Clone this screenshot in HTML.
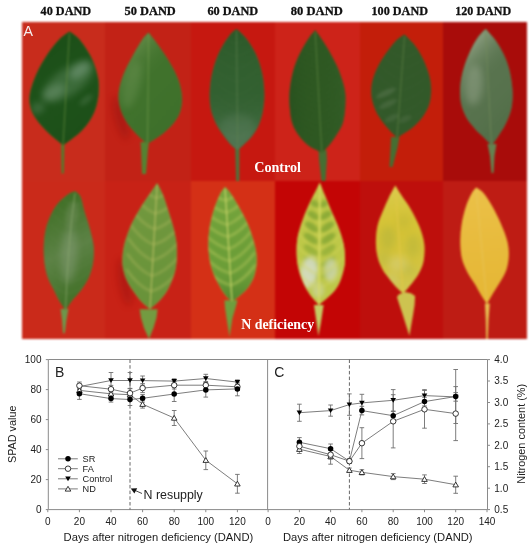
<!DOCTYPE html>
<html><head><meta charset="utf-8"><title>Figure</title>
<style>
html,body{margin:0;padding:0;background:#fff;}
body{width:531px;height:550px;position:relative;overflow:hidden;}
</style></head><body>
<svg width="505" height="317" viewBox="22 22 505 317" style="position:absolute;left:22px;top:22px;filter:blur(0.8px)">
<defs><filter id="b0" x="-150%" y="-150%" width="400%" height="400%"><feGaussianBlur stdDeviation="0.4"/></filter><filter id="b1" x="-150%" y="-150%" width="400%" height="400%"><feGaussianBlur stdDeviation="1"/></filter><filter id="b2" x="-150%" y="-150%" width="400%" height="400%"><feGaussianBlur stdDeviation="2"/></filter><filter id="b3" x="-150%" y="-150%" width="400%" height="400%"><feGaussianBlur stdDeviation="3.5"/></filter></defs>
<g>
<rect x="22" y="22" width="83" height="159" fill="rgb(200,44,28)"/>
<rect x="105" y="22" width="86" height="159" fill="rgb(194,34,22)"/>
<rect x="191" y="22" width="84" height="159" fill="rgb(198,24,16)"/>
<rect x="275" y="22" width="85" height="159" fill="rgb(205,35,25)"/>
<rect x="360" y="22" width="83" height="159" fill="rgb(195,30,10)"/>
<rect x="443" y="22" width="84" height="159" fill="rgb(168,12,10)"/>
<rect x="22" y="181" width="83" height="158" fill="rgb(202,42,26)"/>
<rect x="105" y="181" width="86" height="158" fill="rgb(200,34,22)"/>
<rect x="191" y="181" width="84" height="158" fill="rgb(212,48,22)"/>
<rect x="275" y="181" width="85" height="158" fill="rgb(195,5,5)"/>
<rect x="360" y="181" width="83" height="158" fill="rgb(190,15,12)"/>
<rect x="443" y="181" width="84" height="158" fill="rgb(190,28,20)"/>
</g>
<clipPath id="lc0"><path d="M69.4,31.5 C69.4,31.5 75.8,35.0 79.4,39.2 C83.0,43.4 87.9,50.8 90.9,56.5 C93.9,62.2 95.9,68.5 97.2,73.7 C98.5,79.0 99.1,82.7 99.0,88.0 C98.9,93.3 98.1,100.0 96.7,105.3 C95.3,110.6 93.1,115.2 90.5,119.6 C87.9,124.0 84.6,128.0 81.0,131.6 C77.4,135.2 72.0,139.0 69.0,141.2 C66.0,143.4 63.0,145.0 63.0,145.0 C63.0,145.0 61.0,143.7 58.3,141.5 C55.6,139.3 50.4,135.2 46.8,131.6 C43.1,127.9 39.1,123.5 36.4,119.6 C33.7,115.7 31.7,112.5 30.6,108.2 C29.5,103.9 28.8,99.5 29.8,93.8 C30.8,88.0 33.4,80.4 36.4,73.7 C39.4,67.0 44.0,59.4 47.8,53.6 C51.6,47.9 55.7,42.9 59.3,39.2 C62.9,35.5 69.4,31.5 69.4,31.5Z"/></clipPath>
<path d="M61.2,143.0 L64.4,143.0 L63.8,173.6 L61.6,173.6Z" fill="rgb(80,125,45)"/>
<path d="M69.4,31.5 C69.4,31.5 75.8,35.0 79.4,39.2 C83.0,43.4 87.9,50.8 90.9,56.5 C93.9,62.2 95.9,68.5 97.2,73.7 C98.5,79.0 99.1,82.7 99.0,88.0 C98.9,93.3 98.1,100.0 96.7,105.3 C95.3,110.6 93.1,115.2 90.5,119.6 C87.9,124.0 84.6,128.0 81.0,131.6 C77.4,135.2 72.0,139.0 69.0,141.2 C66.0,143.4 63.0,145.0 63.0,145.0 C63.0,145.0 61.0,143.7 58.3,141.5 C55.6,139.3 50.4,135.2 46.8,131.6 C43.1,127.9 39.1,123.5 36.4,119.6 C33.7,115.7 31.7,112.5 30.6,108.2 C29.5,103.9 28.8,99.5 29.8,93.8 C30.8,88.0 33.4,80.4 36.4,73.7 C39.4,67.0 44.0,59.4 47.8,53.6 C51.6,47.9 55.7,42.9 59.3,39.2 C62.9,35.5 69.4,31.5 69.4,31.5Z" fill="rgb(30,82,26)"/>
<g clip-path="url(#lc0)">
<linearGradient id="lg0" gradientUnits="userSpaceOnUse" x1="30" y1="40" x2="100" y2="140"><stop offset="0" stop-color="rgb(22,68,18)" stop-opacity="0.5"/><stop offset="0.5" stop-color="rgb(30,82,26)" stop-opacity="0"/><stop offset="1" stop-color="rgb(22,66,18)" stop-opacity="0.4"/></linearGradient>
<path d="M69.4,31.5 C69.4,31.5 75.8,35.0 79.4,39.2 C83.0,43.4 87.9,50.8 90.9,56.5 C93.9,62.2 95.9,68.5 97.2,73.7 C98.5,79.0 99.1,82.7 99.0,88.0 C98.9,93.3 98.1,100.0 96.7,105.3 C95.3,110.6 93.1,115.2 90.5,119.6 C87.9,124.0 84.6,128.0 81.0,131.6 C77.4,135.2 72.0,139.0 69.0,141.2 C66.0,143.4 63.0,145.0 63.0,145.0 C63.0,145.0 61.0,143.7 58.3,141.5 C55.6,139.3 50.4,135.2 46.8,131.6 C43.1,127.9 39.1,123.5 36.4,119.6 C33.7,115.7 31.7,112.5 30.6,108.2 C29.5,103.9 28.8,99.5 29.8,93.8 C30.8,88.0 33.4,80.4 36.4,73.7 C39.4,67.0 44.0,59.4 47.8,53.6 C51.6,47.9 55.7,42.9 59.3,39.2 C62.9,35.5 69.4,31.5 69.4,31.5Z" fill="url(#lg0)"/>
<ellipse cx="68" cy="82" rx="30" ry="13" transform="rotate(-35 68 82)" fill="rgb(100,140,100)" opacity="0.45" filter="url(#b3)"/>
<ellipse cx="80" cy="70" rx="12" ry="6" transform="rotate(-40 80 70)" fill="rgb(150,180,160)" opacity="0.4" filter="url(#b3)"/>
<ellipse cx="54" cy="92" rx="12" ry="6" transform="rotate(-28 54 92)" fill="rgb(140,170,145)" opacity="0.35" filter="url(#b3)"/>
<ellipse cx="38" cy="108" rx="7" ry="5" transform="rotate(-30 38 108)" fill="rgb(130,160,135)" opacity="0.35" filter="url(#b3)"/>
<ellipse cx="86" cy="100" rx="8" ry="3" transform="rotate(-40 86 100)" fill="rgb(110,145,110)" opacity="0.3" filter="url(#b2)"/>
<path d="M69.4,33.5 L63.0,145.0" stroke="rgb(100,140,60)" stroke-width="0.9" fill="none" opacity="0.8"/>
<path d="M69.4,31.5 C69.4,31.5 75.8,35.0 79.4,39.2 C83.0,43.4 87.9,50.8 90.9,56.5 C93.9,62.2 95.9,68.5 97.2,73.7 C98.5,79.0 99.1,82.7 99.0,88.0 C98.9,93.3 98.1,100.0 96.7,105.3 C95.3,110.6 93.1,115.2 90.5,119.6 C87.9,124.0 84.6,128.0 81.0,131.6 C77.4,135.2 72.0,139.0 69.0,141.2 C66.0,143.4 63.0,145.0 63.0,145.0 C63.0,145.0 61.0,143.7 58.3,141.5 C55.6,139.3 50.4,135.2 46.8,131.6 C43.1,127.9 39.1,123.5 36.4,119.6 C33.7,115.7 31.7,112.5 30.6,108.2 C29.5,103.9 28.8,99.5 29.8,93.8 C30.8,88.0 33.4,80.4 36.4,73.7 C39.4,67.0 44.0,59.4 47.8,53.6 C51.6,47.9 55.7,42.9 59.3,39.2 C62.9,35.5 69.4,31.5 69.4,31.5Z" stroke="rgb(100,120,30)" stroke-width="1.0" fill="none" opacity="0.5"/>
</g>
<clipPath id="lc1"><path d="M148.7,32.5 C148.7,32.5 154.7,40.0 158.2,45.0 C161.7,50.0 166.3,56.5 169.7,62.3 C173.0,68.0 176.2,73.8 178.3,79.5 C180.4,85.2 181.8,91.5 182.1,96.8 C182.4,102.1 181.8,106.9 180.4,111.2 C179.1,115.5 176.8,119.0 174.0,122.7 C171.2,126.4 167.0,130.2 163.5,133.2 C160.0,136.1 155.7,138.7 153.0,140.4 C150.3,142.1 147.5,143.5 147.5,143.5 C147.5,143.5 144.7,141.9 142.4,139.9 C140.1,137.9 136.7,134.7 133.8,131.3 C130.9,128.0 127.5,124.1 125.1,119.8 C122.7,115.5 120.5,110.2 119.4,105.4 C118.4,100.6 118.1,96.3 118.8,91.0 C119.5,85.7 121.5,79.5 123.7,73.8 C126.0,68.0 129.2,62.2 132.3,56.5 C135.4,50.8 139.7,43.3 142.4,39.3 C145.1,35.3 148.7,32.5 148.7,32.5Z"/></clipPath>
<ellipse cx="121" cy="118" rx="6" ry="22" transform="rotate(-15 121 118)" fill="rgb(140,15,10)" opacity="0.4" filter="url(#b3)"/>
<path d="M140.5,142.0 L149.0,142.0 L148.0,150.0 L146.0,174.0 L142.0,174.0 L141.0,150.0Z" fill="rgb(85,130,50)"/>
<path d="M148.7,32.5 C148.7,32.5 154.7,40.0 158.2,45.0 C161.7,50.0 166.3,56.5 169.7,62.3 C173.0,68.0 176.2,73.8 178.3,79.5 C180.4,85.2 181.8,91.5 182.1,96.8 C182.4,102.1 181.8,106.9 180.4,111.2 C179.1,115.5 176.8,119.0 174.0,122.7 C171.2,126.4 167.0,130.2 163.5,133.2 C160.0,136.1 155.7,138.7 153.0,140.4 C150.3,142.1 147.5,143.5 147.5,143.5 C147.5,143.5 144.7,141.9 142.4,139.9 C140.1,137.9 136.7,134.7 133.8,131.3 C130.9,128.0 127.5,124.1 125.1,119.8 C122.7,115.5 120.5,110.2 119.4,105.4 C118.4,100.6 118.1,96.3 118.8,91.0 C119.5,85.7 121.5,79.5 123.7,73.8 C126.0,68.0 129.2,62.2 132.3,56.5 C135.4,50.8 139.7,43.3 142.4,39.3 C145.1,35.3 148.7,32.5 148.7,32.5Z" fill="rgb(64,114,44)"/>
<g clip-path="url(#lc1)">
<linearGradient id="lg1" gradientUnits="userSpaceOnUse" x1="118" y1="60" x2="182" y2="120"><stop offset="0" stop-color="rgb(115,150,85)" stop-opacity="0.7"/><stop offset="0.45" stop-color="rgb(64,114,44)" stop-opacity="0"/><stop offset="1" stop-color="rgb(54,104,38)" stop-opacity="0.3"/></linearGradient>
<path d="M148.7,32.5 C148.7,32.5 154.7,40.0 158.2,45.0 C161.7,50.0 166.3,56.5 169.7,62.3 C173.0,68.0 176.2,73.8 178.3,79.5 C180.4,85.2 181.8,91.5 182.1,96.8 C182.4,102.1 181.8,106.9 180.4,111.2 C179.1,115.5 176.8,119.0 174.0,122.7 C171.2,126.4 167.0,130.2 163.5,133.2 C160.0,136.1 155.7,138.7 153.0,140.4 C150.3,142.1 147.5,143.5 147.5,143.5 C147.5,143.5 144.7,141.9 142.4,139.9 C140.1,137.9 136.7,134.7 133.8,131.3 C130.9,128.0 127.5,124.1 125.1,119.8 C122.7,115.5 120.5,110.2 119.4,105.4 C118.4,100.6 118.1,96.3 118.8,91.0 C119.5,85.7 121.5,79.5 123.7,73.8 C126.0,68.0 129.2,62.2 132.3,56.5 C135.4,50.8 139.7,43.3 142.4,39.3 C145.1,35.3 148.7,32.5 148.7,32.5Z" fill="url(#lg1)"/>
<ellipse cx="132" cy="85" rx="8" ry="24" transform="rotate(15 132 85)" fill="rgb(125,160,100)" opacity="0.3" filter="url(#b3)"/>
<path d="M148.7,34.5 L147.5,143.5" stroke="rgb(120,160,80)" stroke-width="0.9" fill="none" opacity="0.7"/>
<path d="M148.7,32.5 C148.7,32.5 154.7,40.0 158.2,45.0 C161.7,50.0 166.3,56.5 169.7,62.3 C173.0,68.0 176.2,73.8 178.3,79.5 C180.4,85.2 181.8,91.5 182.1,96.8 C182.4,102.1 181.8,106.9 180.4,111.2 C179.1,115.5 176.8,119.0 174.0,122.7 C171.2,126.4 167.0,130.2 163.5,133.2 C160.0,136.1 155.7,138.7 153.0,140.4 C150.3,142.1 147.5,143.5 147.5,143.5 C147.5,143.5 144.7,141.9 142.4,139.9 C140.1,137.9 136.7,134.7 133.8,131.3 C130.9,128.0 127.5,124.1 125.1,119.8 C122.7,115.5 120.5,110.2 119.4,105.4 C118.4,100.6 118.1,96.3 118.8,91.0 C119.5,85.7 121.5,79.5 123.7,73.8 C126.0,68.0 129.2,62.2 132.3,56.5 C135.4,50.8 139.7,43.3 142.4,39.3 C145.1,35.3 148.7,32.5 148.7,32.5Z" stroke="rgb(120,140,50)" stroke-width="0.8" fill="none" opacity="0.4"/>
</g>
<clipPath id="lc2"><path d="M236.5,29.0 C236.5,29.0 242.5,33.7 245.7,37.8 C248.9,41.9 252.9,47.6 255.7,53.6 C258.5,59.6 260.9,67.1 262.3,73.8 C263.8,80.5 264.3,87.7 264.4,93.9 C264.5,100.1 263.9,105.9 262.9,111.2 C261.9,116.5 260.5,121.3 258.6,125.6 C256.7,129.9 253.9,133.9 251.4,137.1 C248.9,140.3 246.1,142.5 243.8,144.7 C241.5,146.9 237.6,150.5 237.6,150.5 C237.6,150.5 233.8,147.9 231.3,145.2 C228.8,142.5 225.2,137.9 222.6,134.2 C220.0,130.4 217.5,127.0 215.5,122.7 C213.5,118.4 211.6,113.6 210.6,108.3 C209.6,103.0 209.4,97.2 209.7,91.0 C210.0,84.8 210.9,77.6 212.6,70.9 C214.3,64.2 216.9,56.8 219.8,50.8 C222.7,44.8 227.0,38.5 229.8,34.9 C232.6,31.3 236.5,29.0 236.5,29.0Z"/></clipPath>
<path d="M235.2,149.0 L239.4,149.0 L239.2,181.0 L236.2,181.0Z" fill="rgb(75,115,60)"/>
<path d="M236.5,29.0 C236.5,29.0 242.5,33.7 245.7,37.8 C248.9,41.9 252.9,47.6 255.7,53.6 C258.5,59.6 260.9,67.1 262.3,73.8 C263.8,80.5 264.3,87.7 264.4,93.9 C264.5,100.1 263.9,105.9 262.9,111.2 C261.9,116.5 260.5,121.3 258.6,125.6 C256.7,129.9 253.9,133.9 251.4,137.1 C248.9,140.3 246.1,142.5 243.8,144.7 C241.5,146.9 237.6,150.5 237.6,150.5 C237.6,150.5 233.8,147.9 231.3,145.2 C228.8,142.5 225.2,137.9 222.6,134.2 C220.0,130.4 217.5,127.0 215.5,122.7 C213.5,118.4 211.6,113.6 210.6,108.3 C209.6,103.0 209.4,97.2 209.7,91.0 C210.0,84.8 210.9,77.6 212.6,70.9 C214.3,64.2 216.9,56.8 219.8,50.8 C222.7,44.8 227.0,38.5 229.8,34.9 C232.6,31.3 236.5,29.0 236.5,29.0Z" fill="rgb(50,96,48)"/>
<g clip-path="url(#lc2)">
<linearGradient id="lg2" gradientUnits="userSpaceOnUse" x1="237" y1="30" x2="237" y2="150"><stop offset="0" stop-color="rgb(38,82,34)" stop-opacity="0.6"/><stop offset="0.45" stop-color="rgb(50,96,48)" stop-opacity="0"/><stop offset="1" stop-color="rgb(105,135,110)" stop-opacity="0.6"/></linearGradient>
<path d="M236.5,29.0 C236.5,29.0 242.5,33.7 245.7,37.8 C248.9,41.9 252.9,47.6 255.7,53.6 C258.5,59.6 260.9,67.1 262.3,73.8 C263.8,80.5 264.3,87.7 264.4,93.9 C264.5,100.1 263.9,105.9 262.9,111.2 C261.9,116.5 260.5,121.3 258.6,125.6 C256.7,129.9 253.9,133.9 251.4,137.1 C248.9,140.3 246.1,142.5 243.8,144.7 C241.5,146.9 237.6,150.5 237.6,150.5 C237.6,150.5 233.8,147.9 231.3,145.2 C228.8,142.5 225.2,137.9 222.6,134.2 C220.0,130.4 217.5,127.0 215.5,122.7 C213.5,118.4 211.6,113.6 210.6,108.3 C209.6,103.0 209.4,97.2 209.7,91.0 C210.0,84.8 210.9,77.6 212.6,70.9 C214.3,64.2 216.9,56.8 219.8,50.8 C222.7,44.8 227.0,38.5 229.8,34.9 C232.6,31.3 236.5,29.0 236.5,29.0Z" fill="url(#lg2)"/>
<ellipse cx="238" cy="128" rx="18" ry="14" transform="rotate(0 238 128)" fill="rgb(110,140,115)" opacity="0.25" filter="url(#b3)"/>
<path d="M236.6,43.6 Q225.6,41.0 214.5,30.6 M236.6,43.6 Q247.6,40.8 258.5,30.2 M236.7,56.4 Q225.7,53.9 214.6,43.4 M236.7,56.4 Q247.7,53.7 258.6,43.0 M236.9,69.3 Q225.8,66.7 214.7,56.3 M236.9,69.3 Q247.8,66.5 258.7,55.9 M237.0,82.1 Q226.0,79.6 214.9,69.1 M237.0,82.1 Q248.0,79.4 258.9,68.7 M237.1,95.0 Q226.1,92.4 215.0,82.0 M237.1,95.0 Q248.1,92.2 259.0,81.6 M237.2,107.8 Q226.2,105.3 215.1,94.8 M237.2,107.8 Q248.2,105.1 259.1,94.4 M237.3,120.6 Q226.3,118.1 215.2,107.6 M237.3,120.6 Q248.3,117.9 259.2,107.2 M237.4,133.5 Q226.4,130.9 215.3,120.5 M237.4,133.5 Q248.4,130.8 259.3,120.1" stroke="rgb(80,115,70)" stroke-width="0.6" fill="none" opacity="0.5" filter="url(#b1)"/>
<path d="M236.5,31.0 L237.6,150.5" stroke="rgb(95,130,80)" stroke-width="0.9" fill="none" opacity="0.8"/>
<path d="M236.5,29.0 C236.5,29.0 242.5,33.7 245.7,37.8 C248.9,41.9 252.9,47.6 255.7,53.6 C258.5,59.6 260.9,67.1 262.3,73.8 C263.8,80.5 264.3,87.7 264.4,93.9 C264.5,100.1 263.9,105.9 262.9,111.2 C261.9,116.5 260.5,121.3 258.6,125.6 C256.7,129.9 253.9,133.9 251.4,137.1 C248.9,140.3 246.1,142.5 243.8,144.7 C241.5,146.9 237.6,150.5 237.6,150.5 C237.6,150.5 233.8,147.9 231.3,145.2 C228.8,142.5 225.2,137.9 222.6,134.2 C220.0,130.4 217.5,127.0 215.5,122.7 C213.5,118.4 211.6,113.6 210.6,108.3 C209.6,103.0 209.4,97.2 209.7,91.0 C210.0,84.8 210.9,77.6 212.6,70.9 C214.3,64.2 216.9,56.8 219.8,50.8 C222.7,44.8 227.0,38.5 229.8,34.9 C232.6,31.3 236.5,29.0 236.5,29.0Z" stroke="rgb(110,120,50)" stroke-width="0.8" fill="none" opacity="0.5"/>
</g>
<clipPath id="lc3"><path d="M315.2,30.0 C315.2,30.0 319.8,36.1 322.3,40.0 C324.9,43.9 327.7,48.5 330.5,53.6 C333.3,58.7 336.6,64.6 339.0,70.8 C341.4,77.0 344.0,84.7 345.0,90.9 C346.0,97.1 345.6,102.7 345.2,108.2 C344.8,113.7 344.1,119.4 342.5,124.0 C340.9,128.6 338.1,132.3 335.8,136.0 C333.5,139.7 330.9,143.2 328.6,146.0 C326.3,148.8 321.8,152.5 321.8,152.5 C321.8,152.5 312.8,148.8 309.0,146.0 C305.2,143.2 301.9,139.7 299.2,136.0 C296.4,132.3 294.1,128.6 292.5,124.0 C290.9,119.4 290.3,113.7 289.8,108.2 C289.3,102.7 289.0,97.1 289.6,90.9 C290.2,84.7 291.5,77.0 293.2,70.8 C294.9,64.6 297.3,58.9 299.8,53.6 C302.3,48.3 305.4,43.1 308.0,39.2 C310.6,35.3 315.2,30.0 315.2,30.0Z"/></clipPath>
<path d="M318.5,150.0 L326.5,150.0 L327.0,160.0 L325.5,181.0 L321.5,181.0 L319.0,160.0Z" fill="rgb(70,110,50)"/>
<path d="M315.2,30.0 C315.2,30.0 319.8,36.1 322.3,40.0 C324.9,43.9 327.7,48.5 330.5,53.6 C333.3,58.7 336.6,64.6 339.0,70.8 C341.4,77.0 344.0,84.7 345.0,90.9 C346.0,97.1 345.6,102.7 345.2,108.2 C344.8,113.7 344.1,119.4 342.5,124.0 C340.9,128.6 338.1,132.3 335.8,136.0 C333.5,139.7 330.9,143.2 328.6,146.0 C326.3,148.8 321.8,152.5 321.8,152.5 C321.8,152.5 312.8,148.8 309.0,146.0 C305.2,143.2 301.9,139.7 299.2,136.0 C296.4,132.3 294.1,128.6 292.5,124.0 C290.9,119.4 290.3,113.7 289.8,108.2 C289.3,102.7 289.0,97.1 289.6,90.9 C290.2,84.7 291.5,77.0 293.2,70.8 C294.9,64.6 297.3,58.9 299.8,53.6 C302.3,48.3 305.4,43.1 308.0,39.2 C310.6,35.3 315.2,30.0 315.2,30.0Z" fill="rgb(46,88,34)"/>
<g clip-path="url(#lc3)">
<linearGradient id="lg3" gradientUnits="userSpaceOnUse" x1="290" y1="90" x2="345" y2="90"><stop offset="0" stop-color="rgb(36,76,28)" stop-opacity="0.5"/><stop offset="0.5" stop-color="rgb(46,88,34)" stop-opacity="0"/><stop offset="1" stop-color="rgb(58,100,46)" stop-opacity="0.4"/></linearGradient>
<path d="M315.2,30.0 C315.2,30.0 319.8,36.1 322.3,40.0 C324.9,43.9 327.7,48.5 330.5,53.6 C333.3,58.7 336.6,64.6 339.0,70.8 C341.4,77.0 344.0,84.7 345.0,90.9 C346.0,97.1 345.6,102.7 345.2,108.2 C344.8,113.7 344.1,119.4 342.5,124.0 C340.9,128.6 338.1,132.3 335.8,136.0 C333.5,139.7 330.9,143.2 328.6,146.0 C326.3,148.8 321.8,152.5 321.8,152.5 C321.8,152.5 312.8,148.8 309.0,146.0 C305.2,143.2 301.9,139.7 299.2,136.0 C296.4,132.3 294.1,128.6 292.5,124.0 C290.9,119.4 290.3,113.7 289.8,108.2 C289.3,102.7 289.0,97.1 289.6,90.9 C290.2,84.7 291.5,77.0 293.2,70.8 C294.9,64.6 297.3,58.9 299.8,53.6 C302.3,48.3 305.4,43.1 308.0,39.2 C310.6,35.3 315.2,30.0 315.2,30.0Z" fill="url(#lg3)"/>
<path d="M316.0,44.7 Q303.9,42.5 291.3,31.6 M316.0,44.7 Q327.8,41.2 339.2,29.0 M316.6,56.0 Q304.5,53.8 291.9,42.9 M316.6,56.0 Q328.4,52.5 339.8,40.4 M317.2,67.4 Q305.1,65.1 292.5,54.3 M317.2,67.4 Q329.0,63.8 340.4,51.7 M317.8,78.7 Q305.7,76.5 293.1,65.6 M317.8,78.7 Q329.7,75.2 341.0,63.0 M318.4,90.0 Q306.3,87.8 293.7,76.9 M318.4,90.0 Q330.3,86.5 341.6,74.4 M319.0,101.4 Q306.9,99.1 294.3,88.3 M319.0,101.4 Q330.9,97.8 342.2,85.7 M319.7,112.7 Q307.5,110.5 294.9,99.6 M319.7,112.7 Q331.5,109.2 342.8,97.0 M320.3,124.0 Q308.1,121.8 295.5,110.9 M320.3,124.0 Q332.1,120.5 343.5,108.3 M320.9,135.3 Q308.7,133.1 296.1,122.3 M320.9,135.3 Q332.7,131.8 344.1,119.7" stroke="rgb(60,100,50)" stroke-width="0.6" fill="none" opacity="0.5" filter="url(#b1)"/>
<path d="M315.2,32.0 L321.8,152.5" stroke="rgb(85,125,60)" stroke-width="1.0" fill="none" opacity="0.9"/>
<path d="M315.2,30.0 C315.2,30.0 319.8,36.1 322.3,40.0 C324.9,43.9 327.7,48.5 330.5,53.6 C333.3,58.7 336.6,64.6 339.0,70.8 C341.4,77.0 344.0,84.7 345.0,90.9 C346.0,97.1 345.6,102.7 345.2,108.2 C344.8,113.7 344.1,119.4 342.5,124.0 C340.9,128.6 338.1,132.3 335.8,136.0 C333.5,139.7 330.9,143.2 328.6,146.0 C326.3,148.8 321.8,152.5 321.8,152.5 C321.8,152.5 312.8,148.8 309.0,146.0 C305.2,143.2 301.9,139.7 299.2,136.0 C296.4,132.3 294.1,128.6 292.5,124.0 C290.9,119.4 290.3,113.7 289.8,108.2 C289.3,102.7 289.0,97.1 289.6,90.9 C290.2,84.7 291.5,77.0 293.2,70.8 C294.9,64.6 297.3,58.9 299.8,53.6 C302.3,48.3 305.4,43.1 308.0,39.2 C310.6,35.3 315.2,30.0 315.2,30.0Z" stroke="rgb(90,100,40)" stroke-width="0.8" fill="none" opacity="0.5"/>
</g>
<clipPath id="lc4"><path d="M404.5,34.5 C404.5,34.5 411.5,40.9 414.6,45.0 C417.7,49.1 420.7,54.0 423.2,59.3 C425.7,64.6 428.2,71.3 429.5,76.6 C430.8,81.9 431.3,86.1 431.2,90.9 C431.1,95.7 430.5,100.8 428.9,105.3 C427.3,109.8 424.6,114.4 421.7,118.2 C418.8,122.0 414.8,125.7 411.7,128.3 C408.6,130.9 405.6,132.4 403.1,134.0 C400.7,135.6 397.0,137.8 397.0,137.8 C397.0,137.8 392.5,133.7 390.2,131.1 C387.9,128.5 385.4,125.8 383.0,122.5 C380.6,119.2 377.7,115.3 375.8,111.0 C373.9,106.7 372.1,101.5 371.5,96.7 C370.9,91.9 371.2,87.1 372.1,82.3 C373.1,77.5 374.9,72.8 377.2,68.0 C379.5,63.2 382.7,58.1 385.8,53.6 C388.9,49.1 392.8,43.9 395.9,40.7 C399.0,37.5 404.5,34.5 404.5,34.5Z"/></clipPath>
<path d="M391.0,137.0 L399.5,137.0 L397.5,148.0 L392.5,167.0 L389.5,167.0 L390.5,148.0Z" fill="rgb(70,110,50)"/>
<path d="M404.5,34.5 C404.5,34.5 411.5,40.9 414.6,45.0 C417.7,49.1 420.7,54.0 423.2,59.3 C425.7,64.6 428.2,71.3 429.5,76.6 C430.8,81.9 431.3,86.1 431.2,90.9 C431.1,95.7 430.5,100.8 428.9,105.3 C427.3,109.8 424.6,114.4 421.7,118.2 C418.8,122.0 414.8,125.7 411.7,128.3 C408.6,130.9 405.6,132.4 403.1,134.0 C400.7,135.6 397.0,137.8 397.0,137.8 C397.0,137.8 392.5,133.7 390.2,131.1 C387.9,128.5 385.4,125.8 383.0,122.5 C380.6,119.2 377.7,115.3 375.8,111.0 C373.9,106.7 372.1,101.5 371.5,96.7 C370.9,91.9 371.2,87.1 372.1,82.3 C373.1,77.5 374.9,72.8 377.2,68.0 C379.5,63.2 382.7,58.1 385.8,53.6 C388.9,49.1 392.8,43.9 395.9,40.7 C399.0,37.5 404.5,34.5 404.5,34.5Z" fill="rgb(54,94,44)"/>
<g clip-path="url(#lc4)">
<linearGradient id="lg4" gradientUnits="userSpaceOnUse" x1="372" y1="60" x2="430" y2="120"><stop offset="0" stop-color="rgb(42,78,36)" stop-opacity="0.3"/><stop offset="1" stop-color="rgb(42,78,36)" stop-opacity="0.3"/></linearGradient>
<path d="M404.5,34.5 C404.5,34.5 411.5,40.9 414.6,45.0 C417.7,49.1 420.7,54.0 423.2,59.3 C425.7,64.6 428.2,71.3 429.5,76.6 C430.8,81.9 431.3,86.1 431.2,90.9 C431.1,95.7 430.5,100.8 428.9,105.3 C427.3,109.8 424.6,114.4 421.7,118.2 C418.8,122.0 414.8,125.7 411.7,128.3 C408.6,130.9 405.6,132.4 403.1,134.0 C400.7,135.6 397.0,137.8 397.0,137.8 C397.0,137.8 392.5,133.7 390.2,131.1 C387.9,128.5 385.4,125.8 383.0,122.5 C380.6,119.2 377.7,115.3 375.8,111.0 C373.9,106.7 372.1,101.5 371.5,96.7 C370.9,91.9 371.2,87.1 372.1,82.3 C373.1,77.5 374.9,72.8 377.2,68.0 C379.5,63.2 382.7,58.1 385.8,53.6 C388.9,49.1 392.8,43.9 395.9,40.7 C399.0,37.5 404.5,34.5 404.5,34.5Z" fill="url(#lg4)"/>
<ellipse cx="386" cy="93" rx="11" ry="3" transform="rotate(-25 386 93)" fill="rgb(105,130,95)" opacity="0.4" filter="url(#b1)"/>
<ellipse cx="388" cy="104" rx="10" ry="3" transform="rotate(-25 388 104)" fill="rgb(105,130,95)" opacity="0.35" filter="url(#b1)"/>
<ellipse cx="392" cy="118" rx="8" ry="3" transform="rotate(-25 392 118)" fill="rgb(105,130,95)" opacity="0.3" filter="url(#b1)"/>
<ellipse cx="405" cy="119" rx="7" ry="3" transform="rotate(-25 405 119)" fill="rgb(100,125,90)" opacity="0.3" filter="url(#b1)"/>
<path d="M403.6,46.9 Q391.8,43.2 380.7,30.8 M403.6,46.9 Q415.8,44.9 428.6,34.3 M402.8,57.8 Q391.0,54.1 379.9,41.7 M402.8,57.8 Q415.0,55.8 427.8,45.2 M402.0,68.7 Q390.3,65.0 379.1,52.6 M402.0,68.7 Q414.2,66.7 427.0,56.1 M401.2,79.7 Q389.5,75.9 378.3,63.6 M401.2,79.7 Q413.4,77.7 426.2,67.0 M400.4,90.6 Q388.7,86.8 377.5,74.5 M400.4,90.6 Q412.6,88.6 425.4,78.0 M399.6,101.5 Q387.9,97.8 376.7,85.4 M399.6,101.5 Q411.8,99.5 424.6,88.9 M398.8,112.4 Q387.1,108.7 375.9,96.3 M398.8,112.4 Q411.0,110.4 423.8,99.8 M398.1,123.3 Q386.3,119.6 375.2,107.2 M398.1,123.3 Q410.2,121.3 423.0,110.7" stroke="rgb(70,105,60)" stroke-width="0.7" fill="none" opacity="0.6" filter="url(#b1)"/>
<path d="M404.5,36.5 L397.0,137.8" stroke="rgb(90,125,65)" stroke-width="0.9" fill="none" opacity="0.9"/>
<path d="M404.5,34.5 C404.5,34.5 411.5,40.9 414.6,45.0 C417.7,49.1 420.7,54.0 423.2,59.3 C425.7,64.6 428.2,71.3 429.5,76.6 C430.8,81.9 431.3,86.1 431.2,90.9 C431.1,95.7 430.5,100.8 428.9,105.3 C427.3,109.8 424.6,114.4 421.7,118.2 C418.8,122.0 414.8,125.7 411.7,128.3 C408.6,130.9 405.6,132.4 403.1,134.0 C400.7,135.6 397.0,137.8 397.0,137.8 C397.0,137.8 392.5,133.7 390.2,131.1 C387.9,128.5 385.4,125.8 383.0,122.5 C380.6,119.2 377.7,115.3 375.8,111.0 C373.9,106.7 372.1,101.5 371.5,96.7 C370.9,91.9 371.2,87.1 372.1,82.3 C373.1,77.5 374.9,72.8 377.2,68.0 C379.5,63.2 382.7,58.1 385.8,53.6 C388.9,49.1 392.8,43.9 395.9,40.7 C399.0,37.5 404.5,34.5 404.5,34.5Z" stroke="rgb(95,100,40)" stroke-width="0.8" fill="none" opacity="0.5"/>
</g>
<clipPath id="lc5"><path d="M485.6,28.8 C485.6,28.8 491.8,35.2 494.8,39.3 C497.8,43.4 500.9,48.3 503.4,53.6 C505.9,58.9 508.2,64.7 509.7,70.9 C511.2,77.1 512.3,84.8 512.6,91.0 C512.9,97.2 512.5,103.0 511.5,108.3 C510.4,113.6 508.1,118.6 506.3,122.7 C504.5,126.8 502.4,129.7 500.5,132.8 C498.6,135.9 496.3,139.3 494.8,141.4 C493.3,143.5 491.5,145.5 491.5,145.5 C491.5,145.5 486.1,139.9 483.3,137.1 C480.5,134.2 477.5,131.8 474.6,128.4 C471.7,125.1 468.3,121.3 466.0,117.0 C463.7,112.7 461.8,107.9 460.8,102.6 C459.9,97.3 459.8,91.1 460.3,85.3 C460.8,79.5 462.0,73.8 463.7,68.0 C465.4,62.2 468.0,55.8 470.3,50.8 C472.6,45.8 474.9,41.5 477.5,37.8 C480.1,34.1 485.6,28.8 485.6,28.8Z"/></clipPath>
<path d="M487.5,144.0 L496.5,144.0 L494.5,156.0 L493.5,173.0 L491.5,173.0 L490.0,156.0Z" fill="rgb(100,130,80)"/>
<path d="M485.6,28.8 C485.6,28.8 491.8,35.2 494.8,39.3 C497.8,43.4 500.9,48.3 503.4,53.6 C505.9,58.9 508.2,64.7 509.7,70.9 C511.2,77.1 512.3,84.8 512.6,91.0 C512.9,97.2 512.5,103.0 511.5,108.3 C510.4,113.6 508.1,118.6 506.3,122.7 C504.5,126.8 502.4,129.7 500.5,132.8 C498.6,135.9 496.3,139.3 494.8,141.4 C493.3,143.5 491.5,145.5 491.5,145.5 C491.5,145.5 486.1,139.9 483.3,137.1 C480.5,134.2 477.5,131.8 474.6,128.4 C471.7,125.1 468.3,121.3 466.0,117.0 C463.7,112.7 461.8,107.9 460.8,102.6 C459.9,97.3 459.8,91.1 460.3,85.3 C460.8,79.5 462.0,73.8 463.7,68.0 C465.4,62.2 468.0,55.8 470.3,50.8 C472.6,45.8 474.9,41.5 477.5,37.8 C480.1,34.1 485.6,28.8 485.6,28.8Z" fill="rgb(88,115,78)"/>
<g clip-path="url(#lc5)">
<linearGradient id="lg5" gradientUnits="userSpaceOnUse" x1="460" y1="60" x2="512" y2="110"><stop offset="0" stop-color="rgb(140,158,128)" stop-opacity="0.8"/><stop offset="0.5" stop-color="rgb(88,115,78)" stop-opacity="0"/><stop offset="1" stop-color="rgb(75,105,65)" stop-opacity="0.4"/></linearGradient>
<path d="M485.6,28.8 C485.6,28.8 491.8,35.2 494.8,39.3 C497.8,43.4 500.9,48.3 503.4,53.6 C505.9,58.9 508.2,64.7 509.7,70.9 C511.2,77.1 512.3,84.8 512.6,91.0 C512.9,97.2 512.5,103.0 511.5,108.3 C510.4,113.6 508.1,118.6 506.3,122.7 C504.5,126.8 502.4,129.7 500.5,132.8 C498.6,135.9 496.3,139.3 494.8,141.4 C493.3,143.5 491.5,145.5 491.5,145.5 C491.5,145.5 486.1,139.9 483.3,137.1 C480.5,134.2 477.5,131.8 474.6,128.4 C471.7,125.1 468.3,121.3 466.0,117.0 C463.7,112.7 461.8,107.9 460.8,102.6 C459.9,97.3 459.8,91.1 460.3,85.3 C460.8,79.5 462.0,73.8 463.7,68.0 C465.4,62.2 468.0,55.8 470.3,50.8 C472.6,45.8 474.9,41.5 477.5,37.8 C480.1,34.1 485.6,28.8 485.6,28.8Z" fill="url(#lg5)"/>
<ellipse cx="474" cy="85" rx="9" ry="20" transform="rotate(5 474 85)" fill="rgb(150,165,140)" opacity="0.5" filter="url(#b3)"/>
<path d="M485.6,30.8 L491.5,145.5" stroke="rgb(115,140,90)" stroke-width="0.9" fill="none" opacity="0.8"/>
<path d="M485.6,28.8 C485.6,28.8 491.8,35.2 494.8,39.3 C497.8,43.4 500.9,48.3 503.4,53.6 C505.9,58.9 508.2,64.7 509.7,70.9 C511.2,77.1 512.3,84.8 512.6,91.0 C512.9,97.2 512.5,103.0 511.5,108.3 C510.4,113.6 508.1,118.6 506.3,122.7 C504.5,126.8 502.4,129.7 500.5,132.8 C498.6,135.9 496.3,139.3 494.8,141.4 C493.3,143.5 491.5,145.5 491.5,145.5 C491.5,145.5 486.1,139.9 483.3,137.1 C480.5,134.2 477.5,131.8 474.6,128.4 C471.7,125.1 468.3,121.3 466.0,117.0 C463.7,112.7 461.8,107.9 460.8,102.6 C459.9,97.3 459.8,91.1 460.3,85.3 C460.8,79.5 462.0,73.8 463.7,68.0 C465.4,62.2 468.0,55.8 470.3,50.8 C472.6,45.8 474.9,41.5 477.5,37.8 C480.1,34.1 485.6,28.8 485.6,28.8Z" stroke="rgb(120,130,70)" stroke-width="0.8" fill="none" opacity="0.4"/>
</g>
<clipPath id="lc6"><path d="M75.0,191.2 C75.0,191.2 78.9,193.1 80.5,196.5 C82.1,199.9 83.0,206.4 84.6,211.8 C86.2,217.2 88.5,223.4 90.0,229.2 C91.5,235.0 93.2,240.7 93.7,246.5 C94.2,252.3 93.8,258.6 92.9,263.9 C92.0,269.2 90.4,274.0 88.5,278.3 C86.6,282.6 84.0,286.3 81.3,289.9 C78.6,293.5 75.2,296.6 72.6,300.0 C70.0,303.4 65.5,310.5 65.5,310.5 C65.5,310.5 61.6,304.9 59.6,301.5 C57.6,298.1 55.7,293.8 53.8,289.9 C51.9,286.0 49.5,282.6 48.0,278.3 C46.5,274.0 45.3,269.2 44.6,263.9 C43.9,258.6 43.5,252.3 43.7,246.5 C43.9,240.7 44.5,234.5 45.7,229.2 C46.9,223.9 48.8,219.0 50.9,214.7 C53.0,210.3 55.2,206.5 58.1,203.1 C61.0,199.7 65.7,196.0 68.5,194.0 C71.3,192.0 75.0,191.2 75.0,191.2Z"/></clipPath>
<path d="M60.5,309.0 L68.5,309.0 L66.5,320.0 L64.8,333.3 L63.0,333.3 L62.0,320.0Z" fill="rgb(110,150,75)"/>
<path d="M75.0,191.2 C75.0,191.2 78.9,193.1 80.5,196.5 C82.1,199.9 83.0,206.4 84.6,211.8 C86.2,217.2 88.5,223.4 90.0,229.2 C91.5,235.0 93.2,240.7 93.7,246.5 C94.2,252.3 93.8,258.6 92.9,263.9 C92.0,269.2 90.4,274.0 88.5,278.3 C86.6,282.6 84.0,286.3 81.3,289.9 C78.6,293.5 75.2,296.6 72.6,300.0 C70.0,303.4 65.5,310.5 65.5,310.5 C65.5,310.5 61.6,304.9 59.6,301.5 C57.6,298.1 55.7,293.8 53.8,289.9 C51.9,286.0 49.5,282.6 48.0,278.3 C46.5,274.0 45.3,269.2 44.6,263.9 C43.9,258.6 43.5,252.3 43.7,246.5 C43.9,240.7 44.5,234.5 45.7,229.2 C46.9,223.9 48.8,219.0 50.9,214.7 C53.0,210.3 55.2,206.5 58.1,203.1 C61.0,199.7 65.7,196.0 68.5,194.0 C71.3,192.0 75.0,191.2 75.0,191.2Z" fill="rgb(66,114,38)"/>
<g clip-path="url(#lc6)">
<linearGradient id="lg6" gradientUnits="userSpaceOnUse" x1="45" y1="200" x2="95" y2="300"><stop offset="0" stop-color="rgb(56,104,32)" stop-opacity="0.4"/><stop offset="0.5" stop-color="rgb(125,150,108)" stop-opacity="0.45"/><stop offset="1" stop-color="rgb(56,104,32)" stop-opacity="0.4"/></linearGradient>
<path d="M75.0,191.2 C75.0,191.2 78.9,193.1 80.5,196.5 C82.1,199.9 83.0,206.4 84.6,211.8 C86.2,217.2 88.5,223.4 90.0,229.2 C91.5,235.0 93.2,240.7 93.7,246.5 C94.2,252.3 93.8,258.6 92.9,263.9 C92.0,269.2 90.4,274.0 88.5,278.3 C86.6,282.6 84.0,286.3 81.3,289.9 C78.6,293.5 75.2,296.6 72.6,300.0 C70.0,303.4 65.5,310.5 65.5,310.5 C65.5,310.5 61.6,304.9 59.6,301.5 C57.6,298.1 55.7,293.8 53.8,289.9 C51.9,286.0 49.5,282.6 48.0,278.3 C46.5,274.0 45.3,269.2 44.6,263.9 C43.9,258.6 43.5,252.3 43.7,246.5 C43.9,240.7 44.5,234.5 45.7,229.2 C46.9,223.9 48.8,219.0 50.9,214.7 C53.0,210.3 55.2,206.5 58.1,203.1 C61.0,199.7 65.7,196.0 68.5,194.0 C71.3,192.0 75.0,191.2 75.0,191.2Z" fill="url(#lg6)"/>
<ellipse cx="69" cy="255" rx="8" ry="28" transform="rotate(3 69 255)" fill="rgb(140,160,128)" opacity="0.45" filter="url(#b3)"/>
<ellipse cx="72" cy="215" rx="6" ry="14" transform="rotate(10 72 215)" fill="rgb(130,152,112)" opacity="0.35" filter="url(#b2)"/>
<path d="M73.9,205.5 Q63.1,202.0 53.0,190.6 M73.9,205.5 Q85.0,203.8 96.8,194.1 M73.0,216.6 Q62.2,213.0 52.1,201.6 M73.0,216.6 Q84.2,214.8 96.0,205.1 M72.1,227.6 Q61.3,224.1 51.2,212.7 M72.1,227.6 Q83.3,225.8 95.1,216.2 M71.2,238.6 Q60.5,235.1 50.3,223.7 M71.2,238.6 Q82.4,236.9 94.2,227.2 M70.3,249.7 Q59.6,246.2 49.5,234.8 M70.3,249.7 Q81.5,247.9 93.3,238.2 M69.5,260.7 Q58.7,257.2 48.6,245.8 M69.5,260.7 Q80.6,258.9 92.4,249.3 M68.6,271.7 Q57.8,268.2 47.7,256.8 M68.6,271.7 Q79.8,270.0 91.6,260.3 M67.7,282.8 Q57.0,279.3 46.8,267.9 M67.7,282.8 Q78.9,281.0 90.7,271.4 M66.8,293.8 Q56.1,290.3 45.9,278.9 M66.8,293.8 Q78.0,292.0 89.8,282.4" stroke="rgb(110,145,90)" stroke-width="0.6" fill="none" opacity="0.5" filter="url(#b1)"/>
<path d="M75.0,193.2 Q68.0,240.0 65.5,310.5" stroke="rgb(140,170,110)" stroke-width="0.9" fill="none" opacity="0.8"/>
<path d="M75.0,191.2 C75.0,191.2 78.9,193.1 80.5,196.5 C82.1,199.9 83.0,206.4 84.6,211.8 C86.2,217.2 88.5,223.4 90.0,229.2 C91.5,235.0 93.2,240.7 93.7,246.5 C94.2,252.3 93.8,258.6 92.9,263.9 C92.0,269.2 90.4,274.0 88.5,278.3 C86.6,282.6 84.0,286.3 81.3,289.9 C78.6,293.5 75.2,296.6 72.6,300.0 C70.0,303.4 65.5,310.5 65.5,310.5 C65.5,310.5 61.6,304.9 59.6,301.5 C57.6,298.1 55.7,293.8 53.8,289.9 C51.9,286.0 49.5,282.6 48.0,278.3 C46.5,274.0 45.3,269.2 44.6,263.9 C43.9,258.6 43.5,252.3 43.7,246.5 C43.9,240.7 44.5,234.5 45.7,229.2 C46.9,223.9 48.8,219.0 50.9,214.7 C53.0,210.3 55.2,206.5 58.1,203.1 C61.0,199.7 65.7,196.0 68.5,194.0 C71.3,192.0 75.0,191.2 75.0,191.2Z" stroke="rgb(120,140,60)" stroke-width="0.8" fill="none" opacity="0.5"/>
</g>
<clipPath id="lc7"><path d="M157.1,183.0 C157.1,183.0 161.0,189.7 162.9,194.5 C164.8,199.3 166.9,206.1 168.7,211.9 C170.5,217.7 172.6,223.4 173.9,229.2 C175.2,235.0 176.5,240.3 176.8,246.6 C177.2,252.9 176.9,261.1 176.0,266.9 C175.1,272.7 173.3,277.1 171.6,281.4 C169.9,285.7 168.2,289.3 165.8,292.9 C163.4,296.5 159.7,300.4 157.1,303.1 C154.5,305.8 150.0,309.0 150.0,309.0 C150.0,309.0 144.1,304.8 141.2,301.6 C138.3,298.4 135.1,293.9 132.5,290.0 C129.9,286.1 127.6,282.8 125.9,278.5 C124.2,274.2 122.8,269.3 122.4,264.0 C122.1,258.7 122.5,252.9 123.8,246.6 C125.1,240.3 127.8,232.6 130.5,226.3 C133.2,220.0 136.3,214.8 139.8,209.0 C143.3,203.2 148.4,195.9 151.3,191.6 C154.2,187.3 157.1,183.0 157.1,183.0Z"/></clipPath>
<ellipse cx="125" cy="282" rx="6" ry="24" transform="rotate(-10 125 282)" fill="rgb(150,15,10)" opacity="0.45" filter="url(#b3)"/>
<path d="M139.6,309.2 L157.6,309.2 L156.5,318.0 L153.5,328.0 L149.0,339.0 L144.0,328.0 L141.0,318.0Z" fill="rgb(115,155,65)"/>
<path d="M157.1,183.0 C157.1,183.0 161.0,189.7 162.9,194.5 C164.8,199.3 166.9,206.1 168.7,211.9 C170.5,217.7 172.6,223.4 173.9,229.2 C175.2,235.0 176.5,240.3 176.8,246.6 C177.2,252.9 176.9,261.1 176.0,266.9 C175.1,272.7 173.3,277.1 171.6,281.4 C169.9,285.7 168.2,289.3 165.8,292.9 C163.4,296.5 159.7,300.4 157.1,303.1 C154.5,305.8 150.0,309.0 150.0,309.0 C150.0,309.0 144.1,304.8 141.2,301.6 C138.3,298.4 135.1,293.9 132.5,290.0 C129.9,286.1 127.6,282.8 125.9,278.5 C124.2,274.2 122.8,269.3 122.4,264.0 C122.1,258.7 122.5,252.9 123.8,246.6 C125.1,240.3 127.8,232.6 130.5,226.3 C133.2,220.0 136.3,214.8 139.8,209.0 C143.3,203.2 148.4,195.9 151.3,191.6 C154.2,187.3 157.1,183.0 157.1,183.0Z" fill="rgb(108,150,60)"/>
<g clip-path="url(#lc7)">
<linearGradient id="lg7" gradientUnits="userSpaceOnUse" x1="150" y1="190" x2="150" y2="305"><stop offset="0" stop-color="rgb(125,158,68)" stop-opacity="0.4"/><stop offset="1" stop-color="rgb(96,140,52)" stop-opacity="0.3"/></linearGradient>
<path d="M157.1,183.0 C157.1,183.0 161.0,189.7 162.9,194.5 C164.8,199.3 166.9,206.1 168.7,211.9 C170.5,217.7 172.6,223.4 173.9,229.2 C175.2,235.0 176.5,240.3 176.8,246.6 C177.2,252.9 176.9,261.1 176.0,266.9 C175.1,272.7 173.3,277.1 171.6,281.4 C169.9,285.7 168.2,289.3 165.8,292.9 C163.4,296.5 159.7,300.4 157.1,303.1 C154.5,305.8 150.0,309.0 150.0,309.0 C150.0,309.0 144.1,304.8 141.2,301.6 C138.3,298.4 135.1,293.9 132.5,290.0 C129.9,286.1 127.6,282.8 125.9,278.5 C124.2,274.2 122.8,269.3 122.4,264.0 C122.1,258.7 122.5,252.9 123.8,246.6 C125.1,240.3 127.8,232.6 130.5,226.3 C133.2,220.0 136.3,214.8 139.8,209.0 C143.3,203.2 148.4,195.9 151.3,191.6 C154.2,187.3 157.1,183.0 157.1,183.0Z" fill="url(#lg7)"/>
<path d="M156.2,198.1 Q143.5,193.2 131.5,175.9 M156.2,198.1 Q169.5,194.7 183.4,178.8 M155.4,213.7 Q142.6,208.8 130.6,191.4 M155.4,213.7 Q168.6,210.2 182.5,194.4 M154.5,229.2 Q141.8,224.3 129.7,207.0 M154.5,229.2 Q167.7,225.8 181.6,209.9 M153.6,244.7 Q140.9,239.9 128.8,222.5 M153.6,244.7 Q166.8,241.3 180.8,225.4 M152.7,260.3 Q140.0,255.4 128.0,238.1 M152.7,260.3 Q166.0,256.9 179.9,241.0 M151.9,275.8 Q139.1,270.9 127.1,253.6 M151.9,275.8 Q165.1,272.4 179.0,256.5 M151.0,291.4 Q138.2,286.5 126.2,269.1 M151.0,291.4 Q164.2,287.9 178.1,272.1" stroke="rgb(180,188,98)" stroke-width="1.8" fill="none" opacity="0.6" filter="url(#b1)"/>
<path d="M157.1,185.0 L150.0,309.0" stroke="rgb(185,192,100)" stroke-width="1.2" fill="none" opacity="0.85"/>
<path d="M157.1,183.0 C157.1,183.0 161.0,189.7 162.9,194.5 C164.8,199.3 166.9,206.1 168.7,211.9 C170.5,217.7 172.6,223.4 173.9,229.2 C175.2,235.0 176.5,240.3 176.8,246.6 C177.2,252.9 176.9,261.1 176.0,266.9 C175.1,272.7 173.3,277.1 171.6,281.4 C169.9,285.7 168.2,289.3 165.8,292.9 C163.4,296.5 159.7,300.4 157.1,303.1 C154.5,305.8 150.0,309.0 150.0,309.0 C150.0,309.0 144.1,304.8 141.2,301.6 C138.3,298.4 135.1,293.9 132.5,290.0 C129.9,286.1 127.6,282.8 125.9,278.5 C124.2,274.2 122.8,269.3 122.4,264.0 C122.1,258.7 122.5,252.9 123.8,246.6 C125.1,240.3 127.8,232.6 130.5,226.3 C133.2,220.0 136.3,214.8 139.8,209.0 C143.3,203.2 148.4,195.9 151.3,191.6 C154.2,187.3 157.1,183.0 157.1,183.0Z" stroke="rgb(170,175,80)" stroke-width="0.9" fill="none" opacity="0.5"/>
</g>
<clipPath id="lc8"><path d="M225.1,186.8 C225.1,186.8 228.9,190.7 231.4,194.4 C233.9,198.1 237.2,203.6 240.1,208.9 C243.0,214.2 246.2,219.9 248.7,226.2 C251.2,232.4 253.8,240.6 255.1,246.4 C256.4,252.2 256.9,256.0 256.8,260.8 C256.7,265.6 255.8,271.0 254.5,275.3 C253.2,279.6 251.1,283.4 248.7,286.8 C246.3,290.2 242.9,293.1 240.1,295.5 C237.3,297.9 232.0,301.5 232.0,301.5 C232.0,301.5 227.6,297.9 225.6,295.5 C223.6,293.1 221.8,290.2 219.9,286.8 C218.0,283.4 215.8,279.6 214.1,275.3 C212.4,271.0 210.8,266.1 209.8,260.8 C208.8,255.5 208.3,249.3 208.3,243.5 C208.3,237.7 208.8,232.0 209.8,226.2 C210.8,220.4 212.4,214.2 214.1,208.9 C215.8,203.6 218.1,198.1 219.9,194.4 C221.7,190.7 225.1,186.8 225.1,186.8Z"/></clipPath>
<path d="M224.5,300.3 L237.6,300.3 L235.5,308.0 L232.5,318.0 L229.5,337.0 L226.5,318.0 L225.0,308.0Z" fill="rgb(110,158,62)"/>
<path d="M225.1,186.8 C225.1,186.8 228.9,190.7 231.4,194.4 C233.9,198.1 237.2,203.6 240.1,208.9 C243.0,214.2 246.2,219.9 248.7,226.2 C251.2,232.4 253.8,240.6 255.1,246.4 C256.4,252.2 256.9,256.0 256.8,260.8 C256.7,265.6 255.8,271.0 254.5,275.3 C253.2,279.6 251.1,283.4 248.7,286.8 C246.3,290.2 242.9,293.1 240.1,295.5 C237.3,297.9 232.0,301.5 232.0,301.5 C232.0,301.5 227.6,297.9 225.6,295.5 C223.6,293.1 221.8,290.2 219.9,286.8 C218.0,283.4 215.8,279.6 214.1,275.3 C212.4,271.0 210.8,266.1 209.8,260.8 C208.8,255.5 208.3,249.3 208.3,243.5 C208.3,237.7 208.8,232.0 209.8,226.2 C210.8,220.4 212.4,214.2 214.1,208.9 C215.8,203.6 218.1,198.1 219.9,194.4 C221.7,190.7 225.1,186.8 225.1,186.8Z" fill="rgb(108,158,56)"/>
<g clip-path="url(#lc8)">
<linearGradient id="lg8" gradientUnits="userSpaceOnUse" x1="232" y1="190" x2="232" y2="300"><stop offset="0" stop-color="rgb(140,180,72)" stop-opacity="0.4"/><stop offset="0.6" stop-color="rgb(118,165,62)" stop-opacity="0"/><stop offset="1" stop-color="rgb(70,125,42)" stop-opacity="0.7"/></linearGradient>
<path d="M225.1,186.8 C225.1,186.8 228.9,190.7 231.4,194.4 C233.9,198.1 237.2,203.6 240.1,208.9 C243.0,214.2 246.2,219.9 248.7,226.2 C251.2,232.4 253.8,240.6 255.1,246.4 C256.4,252.2 256.9,256.0 256.8,260.8 C256.7,265.6 255.8,271.0 254.5,275.3 C253.2,279.6 251.1,283.4 248.7,286.8 C246.3,290.2 242.9,293.1 240.1,295.5 C237.3,297.9 232.0,301.5 232.0,301.5 C232.0,301.5 227.6,297.9 225.6,295.5 C223.6,293.1 221.8,290.2 219.9,286.8 C218.0,283.4 215.8,279.6 214.1,275.3 C212.4,271.0 210.8,266.1 209.8,260.8 C208.8,255.5 208.3,249.3 208.3,243.5 C208.3,237.7 208.8,232.0 209.8,226.2 C210.8,220.4 212.4,214.2 214.1,208.9 C215.8,203.6 218.1,198.1 219.9,194.4 C221.7,190.7 225.1,186.8 225.1,186.8Z" fill="url(#lg8)"/>
<path d="M225.9,200.6 Q212.7,197.5 198.8,182.7 M225.9,200.6 Q238.7,195.9 250.7,179.5 M226.7,212.7 Q213.4,209.6 199.5,194.8 M226.7,212.7 Q239.4,208.0 251.4,191.7 M227.4,224.8 Q214.2,221.7 200.3,206.9 M227.4,224.8 Q240.1,220.1 252.2,203.8 M228.1,236.9 Q214.9,233.8 201.0,219.0 M228.1,236.9 Q240.9,232.3 252.9,215.9 M228.8,249.1 Q215.6,246.0 201.7,231.2 M228.8,249.1 Q241.6,244.4 253.6,228.0 M229.6,261.2 Q216.4,258.1 202.5,243.3 M229.6,261.2 Q242.3,256.5 254.4,240.2 M230.3,273.3 Q217.1,270.2 203.2,255.4 M230.3,273.3 Q243.0,268.6 255.1,252.3 M231.0,285.4 Q217.8,282.3 203.9,267.5 M231.0,285.4 Q243.8,280.8 255.8,264.4" stroke="rgb(195,208,100)" stroke-width="1.8" fill="none" opacity="0.65" filter="url(#b1)"/>
<path d="M225.1,188.8 L232.0,301.5" stroke="rgb(200,212,105)" stroke-width="1.3" fill="none" opacity="0.9"/>
<path d="M225.1,186.8 C225.1,186.8 228.9,190.7 231.4,194.4 C233.9,198.1 237.2,203.6 240.1,208.9 C243.0,214.2 246.2,219.9 248.7,226.2 C251.2,232.4 253.8,240.6 255.1,246.4 C256.4,252.2 256.9,256.0 256.8,260.8 C256.7,265.6 255.8,271.0 254.5,275.3 C253.2,279.6 251.1,283.4 248.7,286.8 C246.3,290.2 242.9,293.1 240.1,295.5 C237.3,297.9 232.0,301.5 232.0,301.5 C232.0,301.5 227.6,297.9 225.6,295.5 C223.6,293.1 221.8,290.2 219.9,286.8 C218.0,283.4 215.8,279.6 214.1,275.3 C212.4,271.0 210.8,266.1 209.8,260.8 C208.8,255.5 208.3,249.3 208.3,243.5 C208.3,237.7 208.8,232.0 209.8,226.2 C210.8,220.4 212.4,214.2 214.1,208.9 C215.8,203.6 218.1,198.1 219.9,194.4 C221.7,190.7 225.1,186.8 225.1,186.8Z" stroke="rgb(185,195,80)" stroke-width="0.9" fill="none" opacity="0.6"/>
</g>
<clipPath id="lc9"><path d="M319.8,182.5 C319.8,182.5 322.7,190.1 324.5,194.5 C326.3,198.9 328.2,203.6 330.5,208.9 C332.8,214.2 335.8,220.5 338.0,226.3 C340.2,232.1 342.3,237.8 343.5,243.6 C344.7,249.4 345.2,255.7 345.0,261.0 C344.8,266.3 343.4,271.1 342.1,275.4 C340.8,279.7 339.2,283.6 337.2,287.0 C335.2,290.4 332.9,292.6 329.9,295.6 C326.9,298.6 319.0,305.0 319.0,305.0 C319.0,305.0 312.2,297.7 309.7,294.2 C307.2,290.7 305.7,288.2 303.9,284.1 C302.1,280.0 299.9,274.4 298.7,269.6 C297.5,264.8 296.9,260.5 296.7,255.2 C296.5,249.9 296.5,243.6 297.5,237.8 C298.5,232.0 300.5,226.3 302.5,220.5 C304.5,214.7 307.5,207.9 309.7,203.1 C311.9,198.3 313.8,195.0 315.5,191.6 C317.2,188.2 319.8,182.5 319.8,182.5Z"/></clipPath>
<path d="M314.0,305.0 L323.6,305.0 L321.0,322.0 L318.4,336.1 L316.5,322.0Z" fill="rgb(195,205,100)"/>
<path d="M319.8,182.5 C319.8,182.5 322.7,190.1 324.5,194.5 C326.3,198.9 328.2,203.6 330.5,208.9 C332.8,214.2 335.8,220.5 338.0,226.3 C340.2,232.1 342.3,237.8 343.5,243.6 C344.7,249.4 345.2,255.7 345.0,261.0 C344.8,266.3 343.4,271.1 342.1,275.4 C340.8,279.7 339.2,283.6 337.2,287.0 C335.2,290.4 332.9,292.6 329.9,295.6 C326.9,298.6 319.0,305.0 319.0,305.0 C319.0,305.0 312.2,297.7 309.7,294.2 C307.2,290.7 305.7,288.2 303.9,284.1 C302.1,280.0 299.9,274.4 298.7,269.6 C297.5,264.8 296.9,260.5 296.7,255.2 C296.5,249.9 296.5,243.6 297.5,237.8 C298.5,232.0 300.5,226.3 302.5,220.5 C304.5,214.7 307.5,207.9 309.7,203.1 C311.9,198.3 313.8,195.0 315.5,191.6 C317.2,188.2 319.8,182.5 319.8,182.5Z" fill="rgb(190,200,72)"/>
<g clip-path="url(#lc9)">
<ellipse cx="324.54" cy="204.0" rx="4.8999999999999995" ry="3.8" transform="rotate(-35 324.54 204.0)" fill="rgb(125,162,48)" opacity="0.7124999999999999" filter="url(#b1)"/>
<ellipse cx="314.46" cy="204.0" rx="4.8999999999999995" ry="3.8" transform="rotate(35 314.46 204.0)" fill="rgb(125,162,48)" opacity="0.7124999999999999" filter="url(#b1)"/>
<ellipse cx="325.98" cy="215.5" rx="6.3" ry="3.8" transform="rotate(-35 325.98 215.5)" fill="rgb(125,162,48)" opacity="0.76" filter="url(#b1)"/>
<ellipse cx="313.02" cy="215.5" rx="6.3" ry="3.8" transform="rotate(35 313.02 215.5)" fill="rgb(125,162,48)" opacity="0.76" filter="url(#b1)"/>
<ellipse cx="327.42" cy="227.0" rx="7.699999999999999" ry="3.8" transform="rotate(-35 327.42 227.0)" fill="rgb(125,162,48)" opacity="0.76" filter="url(#b1)"/>
<ellipse cx="311.58" cy="227.0" rx="7.699999999999999" ry="3.8" transform="rotate(35 311.58 227.0)" fill="rgb(125,162,48)" opacity="0.76" filter="url(#b1)"/>
<ellipse cx="328.14" cy="238.5" rx="8.399999999999999" ry="3.8" transform="rotate(-35 328.14 238.5)" fill="rgb(125,162,48)" opacity="0.7124999999999999" filter="url(#b1)"/>
<ellipse cx="310.86" cy="238.5" rx="8.399999999999999" ry="3.8" transform="rotate(35 310.86 238.5)" fill="rgb(125,162,48)" opacity="0.7124999999999999" filter="url(#b1)"/>
<ellipse cx="328.14" cy="250.0" rx="8.399999999999999" ry="3.8" transform="rotate(-35 328.14 250.0)" fill="rgb(125,162,48)" opacity="0.5225" filter="url(#b1)"/>
<ellipse cx="310.86" cy="250.0" rx="8.399999999999999" ry="3.8" transform="rotate(35 310.86 250.0)" fill="rgb(125,162,48)" opacity="0.5225" filter="url(#b1)"/>
<ellipse cx="328.14" cy="261.5" rx="8.399999999999999" ry="3.8" transform="rotate(-35 328.14 261.5)" fill="rgb(125,162,48)" opacity="0.38" filter="url(#b1)"/>
<ellipse cx="310.86" cy="261.5" rx="8.399999999999999" ry="3.8" transform="rotate(35 310.86 261.5)" fill="rgb(125,162,48)" opacity="0.38" filter="url(#b1)"/>
<ellipse cx="327.42" cy="273.0" rx="7.699999999999999" ry="3.8" transform="rotate(-35 327.42 273.0)" fill="rgb(125,162,48)" opacity="0.285" filter="url(#b1)"/>
<ellipse cx="311.58" cy="273.0" rx="7.699999999999999" ry="3.8" transform="rotate(35 311.58 273.0)" fill="rgb(125,162,48)" opacity="0.285" filter="url(#b1)"/>
<ellipse cx="309" cy="272" rx="9" ry="16" transform="rotate(10 309 272)" fill="rgb(215,222,205)" opacity="0.85" filter="url(#b2)"/>
<ellipse cx="331" cy="270" rx="7" ry="12" transform="rotate(0 331 270)" fill="rgb(210,218,200)" opacity="0.65" filter="url(#b2)"/>
<ellipse cx="318" cy="290" rx="6" ry="8" transform="rotate(0 318 290)" fill="rgb(210,218,200)" opacity="0.5" filter="url(#b2)"/>
<path d="M319.7,197.2 Q307.7,193.5 295.8,179.0 M319.7,197.2 Q331.7,193.7 343.8,179.4 M319.6,210.2 Q307.6,206.5 295.7,192.0 M319.6,210.2 Q331.6,206.6 343.7,192.3 M319.5,223.1 Q307.6,219.4 295.7,204.9 M319.5,223.1 Q331.6,219.6 343.7,205.3 M319.5,236.1 Q307.5,232.4 295.6,217.9 M319.5,236.1 Q331.5,232.5 343.6,218.2 M319.4,249.0 Q307.4,245.3 295.5,230.8 M319.4,249.0 Q331.4,245.5 343.5,231.2 M319.3,261.9 Q307.3,258.3 295.4,243.8 M319.3,261.9 Q331.3,258.4 343.4,244.1 M319.2,274.9 Q307.2,271.2 295.3,256.7 M319.2,274.9 Q331.2,271.4 343.3,257.1 M319.1,287.9 Q307.1,284.2 295.2,269.7 M319.1,287.9 Q331.1,284.3 343.2,270.0" stroke="rgb(210,215,95)" stroke-width="1.4" fill="none" opacity="0.6" filter="url(#b1)"/>
<path d="M319.8,184.5 L319.0,305.0" stroke="rgb(215,220,100)" stroke-width="1.6" fill="none" opacity="0.9"/>
<path d="M319.8,182.5 C319.8,182.5 322.7,190.1 324.5,194.5 C326.3,198.9 328.2,203.6 330.5,208.9 C332.8,214.2 335.8,220.5 338.0,226.3 C340.2,232.1 342.3,237.8 343.5,243.6 C344.7,249.4 345.2,255.7 345.0,261.0 C344.8,266.3 343.4,271.1 342.1,275.4 C340.8,279.7 339.2,283.6 337.2,287.0 C335.2,290.4 332.9,292.6 329.9,295.6 C326.9,298.6 319.0,305.0 319.0,305.0 C319.0,305.0 312.2,297.7 309.7,294.2 C307.2,290.7 305.7,288.2 303.9,284.1 C302.1,280.0 299.9,274.4 298.7,269.6 C297.5,264.8 296.9,260.5 296.7,255.2 C296.5,249.9 296.5,243.6 297.5,237.8 C298.5,232.0 300.5,226.3 302.5,220.5 C304.5,214.7 307.5,207.9 309.7,203.1 C311.9,198.3 313.8,195.0 315.5,191.6 C317.2,188.2 319.8,182.5 319.8,182.5Z" stroke="rgb(205,210,90)" stroke-width="1.2" fill="none" opacity="0.7"/>
</g>
<clipPath id="lc10"><path d="M395.3,185.5 C395.3,185.5 399.3,192.0 401.9,195.9 C404.4,199.8 407.7,203.8 410.6,208.9 C413.5,214.0 417.0,220.5 419.3,226.3 C421.6,232.1 423.5,237.8 424.2,243.6 C424.9,249.4 424.4,256.2 423.6,261.0 C422.8,265.8 421.0,269.1 419.3,272.5 C417.6,275.9 415.4,278.6 413.5,281.2 C411.6,283.8 409.4,286.3 407.7,288.4 C405.9,290.4 403.0,293.5 403.0,293.5 C403.0,293.5 398.5,289.5 396.1,287.0 C393.8,284.5 391.1,281.2 388.9,278.3 C386.6,275.4 384.4,273.0 382.6,269.6 C380.8,266.2 379.0,262.4 377.9,258.1 C376.8,253.8 376.0,248.9 375.9,243.6 C375.8,238.3 376.3,231.6 377.4,226.3 C378.5,221.0 380.7,216.6 382.6,211.8 C384.5,207.0 386.8,201.8 388.9,197.4 C391.0,193.0 395.3,185.5 395.3,185.5Z"/></clipPath>
<path d="M405.0,292.0 L399.0,294.3 L396.9,297.0 L399.5,305.0 L402.5,314.0 L409.4,335.8 L413.2,314.0 L414.6,305.0 L415.1,296.0 L411.0,293.3Z" fill="rgb(205,195,80)"/>
<path d="M395.3,185.5 C395.3,185.5 399.3,192.0 401.9,195.9 C404.4,199.8 407.7,203.8 410.6,208.9 C413.5,214.0 417.0,220.5 419.3,226.3 C421.6,232.1 423.5,237.8 424.2,243.6 C424.9,249.4 424.4,256.2 423.6,261.0 C422.8,265.8 421.0,269.1 419.3,272.5 C417.6,275.9 415.4,278.6 413.5,281.2 C411.6,283.8 409.4,286.3 407.7,288.4 C405.9,290.4 403.0,293.5 403.0,293.5 C403.0,293.5 398.5,289.5 396.1,287.0 C393.8,284.5 391.1,281.2 388.9,278.3 C386.6,275.4 384.4,273.0 382.6,269.6 C380.8,266.2 379.0,262.4 377.9,258.1 C376.8,253.8 376.0,248.9 375.9,243.6 C375.8,238.3 376.3,231.6 377.4,226.3 C378.5,221.0 380.7,216.6 382.6,211.8 C384.5,207.0 386.8,201.8 388.9,197.4 C391.0,193.0 395.3,185.5 395.3,185.5Z" fill="rgb(214,196,55)"/>
<g clip-path="url(#lc10)">
<linearGradient id="lg10" gradientUnits="userSpaceOnUse" x1="395" y1="186" x2="403" y2="293"><stop offset="0" stop-color="rgb(222,212,110)" stop-opacity="0.5"/><stop offset="0.4" stop-color="rgb(214,196,55)" stop-opacity="0"/><stop offset="1" stop-color="rgb(200,200,120)" stop-opacity="0.4"/></linearGradient>
<path d="M395.3,185.5 C395.3,185.5 399.3,192.0 401.9,195.9 C404.4,199.8 407.7,203.8 410.6,208.9 C413.5,214.0 417.0,220.5 419.3,226.3 C421.6,232.1 423.5,237.8 424.2,243.6 C424.9,249.4 424.4,256.2 423.6,261.0 C422.8,265.8 421.0,269.1 419.3,272.5 C417.6,275.9 415.4,278.6 413.5,281.2 C411.6,283.8 409.4,286.3 407.7,288.4 C405.9,290.4 403.0,293.5 403.0,293.5 C403.0,293.5 398.5,289.5 396.1,287.0 C393.8,284.5 391.1,281.2 388.9,278.3 C386.6,275.4 384.4,273.0 382.6,269.6 C380.8,266.2 379.0,262.4 377.9,258.1 C376.8,253.8 376.0,248.9 375.9,243.6 C375.8,238.3 376.3,231.6 377.4,226.3 C378.5,221.0 380.7,216.6 382.6,211.8 C384.5,207.0 386.8,201.8 388.9,197.4 C391.0,193.0 395.3,185.5 395.3,185.5Z" fill="url(#lg10)"/>
<ellipse cx="388" cy="238" rx="8" ry="12" transform="rotate(0 388 238)" fill="rgb(170,175,60)" opacity="0.45" filter="url(#b3)"/>
<ellipse cx="413" cy="246" rx="7" ry="12" transform="rotate(0 413 246)" fill="rgb(170,175,60)" opacity="0.4" filter="url(#b3)"/>
<ellipse cx="398" cy="264" rx="10" ry="8" transform="rotate(0 398 264)" fill="rgb(215,210,140)" opacity="0.45" filter="url(#b3)"/>
<ellipse cx="384" cy="258" rx="6" ry="8" transform="rotate(0 384 258)" fill="rgb(175,180,75)" opacity="0.4" filter="url(#b3)"/>
<ellipse cx="409" cy="270" rx="7" ry="6" transform="rotate(0 409 270)" fill="rgb(180,182,80)" opacity="0.4" filter="url(#b3)"/>
<ellipse cx="404" cy="222" rx="6" ry="8" transform="rotate(0 404 222)" fill="rgb(180,175,55)" opacity="0.35" filter="url(#b3)"/>
<ellipse cx="392" cy="280" rx="7" ry="6" transform="rotate(0 392 280)" fill="rgb(205,205,135)" opacity="0.45" filter="url(#b3)"/>
<path d="M395.3,187.5 L403.0,293.5" stroke="rgb(225,200,70)" stroke-width="1.3" fill="none" opacity="0.8"/>
<path d="M395.3,185.5 C395.3,185.5 399.3,192.0 401.9,195.9 C404.4,199.8 407.7,203.8 410.6,208.9 C413.5,214.0 417.0,220.5 419.3,226.3 C421.6,232.1 423.5,237.8 424.2,243.6 C424.9,249.4 424.4,256.2 423.6,261.0 C422.8,265.8 421.0,269.1 419.3,272.5 C417.6,275.9 415.4,278.6 413.5,281.2 C411.6,283.8 409.4,286.3 407.7,288.4 C405.9,290.4 403.0,293.5 403.0,293.5 C403.0,293.5 398.5,289.5 396.1,287.0 C393.8,284.5 391.1,281.2 388.9,278.3 C386.6,275.4 384.4,273.0 382.6,269.6 C380.8,266.2 379.0,262.4 377.9,258.1 C376.8,253.8 376.0,248.9 375.9,243.6 C375.8,238.3 376.3,231.6 377.4,226.3 C378.5,221.0 380.7,216.6 382.6,211.8 C384.5,207.0 386.8,201.8 388.9,197.4 C391.0,193.0 395.3,185.5 395.3,185.5Z" stroke="rgb(205,190,60)" stroke-width="0.8" fill="none" opacity="0.4"/>
</g>
<clipPath id="lc11"><path d="M476.2,187.5 C476.2,187.5 480.8,189.9 483.4,193.0 C486.0,196.1 489.2,200.9 492.1,206.0 C495.0,211.1 498.2,217.5 500.7,223.3 C503.2,229.1 505.8,235.3 507.1,240.6 C508.5,245.9 508.9,250.3 508.8,255.1 C508.7,259.9 507.9,265.2 506.5,269.5 C505.1,273.8 502.9,277.1 500.7,281.0 C498.5,284.9 495.8,288.8 493.5,292.6 C491.2,296.4 487.0,304.0 487.0,304.0 C487.0,304.0 482.5,297.4 480.5,294.0 C478.5,290.6 477.0,287.5 474.8,283.9 C472.6,280.3 469.7,276.7 467.5,272.4 C465.3,268.1 463.0,263.3 461.8,258.0 C460.6,252.7 460.3,246.4 460.3,240.6 C460.3,234.8 460.8,229.1 461.8,223.3 C462.8,217.5 464.4,211.1 466.1,206.0 C467.8,200.9 470.2,196.1 471.9,193.0 C473.6,189.9 476.2,187.5 476.2,187.5Z"/></clipPath>
<path d="M484.9,303.5 L489.8,303.5 L488.5,320.0 L487.8,339.0 L486.2,339.0 L485.8,320.0Z" fill="rgb(230,190,80)"/>
<path d="M476.2,187.5 C476.2,187.5 480.8,189.9 483.4,193.0 C486.0,196.1 489.2,200.9 492.1,206.0 C495.0,211.1 498.2,217.5 500.7,223.3 C503.2,229.1 505.8,235.3 507.1,240.6 C508.5,245.9 508.9,250.3 508.8,255.1 C508.7,259.9 507.9,265.2 506.5,269.5 C505.1,273.8 502.9,277.1 500.7,281.0 C498.5,284.9 495.8,288.8 493.5,292.6 C491.2,296.4 487.0,304.0 487.0,304.0 C487.0,304.0 482.5,297.4 480.5,294.0 C478.5,290.6 477.0,287.5 474.8,283.9 C472.6,280.3 469.7,276.7 467.5,272.4 C465.3,268.1 463.0,263.3 461.8,258.0 C460.6,252.7 460.3,246.4 460.3,240.6 C460.3,234.8 460.8,229.1 461.8,223.3 C462.8,217.5 464.4,211.1 466.1,206.0 C467.8,200.9 470.2,196.1 471.9,193.0 C473.6,189.9 476.2,187.5 476.2,187.5Z" fill="rgb(232,186,54)"/>
<g clip-path="url(#lc11)">
<linearGradient id="lg11" gradientUnits="userSpaceOnUse" x1="476" y1="188" x2="487" y2="304"><stop offset="0" stop-color="rgb(238,198,85)" stop-opacity="0.6"/><stop offset="1" stop-color="rgb(226,178,50)" stop-opacity="0.4"/></linearGradient>
<path d="M476.2,187.5 C476.2,187.5 480.8,189.9 483.4,193.0 C486.0,196.1 489.2,200.9 492.1,206.0 C495.0,211.1 498.2,217.5 500.7,223.3 C503.2,229.1 505.8,235.3 507.1,240.6 C508.5,245.9 508.9,250.3 508.8,255.1 C508.7,259.9 507.9,265.2 506.5,269.5 C505.1,273.8 502.9,277.1 500.7,281.0 C498.5,284.9 495.8,288.8 493.5,292.6 C491.2,296.4 487.0,304.0 487.0,304.0 C487.0,304.0 482.5,297.4 480.5,294.0 C478.5,290.6 477.0,287.5 474.8,283.9 C472.6,280.3 469.7,276.7 467.5,272.4 C465.3,268.1 463.0,263.3 461.8,258.0 C460.6,252.7 460.3,246.4 460.3,240.6 C460.3,234.8 460.8,229.1 461.8,223.3 C462.8,217.5 464.4,211.1 466.1,206.0 C467.8,200.9 470.2,196.1 471.9,193.0 C473.6,189.9 476.2,187.5 476.2,187.5Z" fill="url(#lg11)"/>
<path d="M476.2,189.5 L487.0,304.0" stroke="rgb(232,200,100)" stroke-width="1.0" fill="none" opacity="0.6"/>
</g>
</svg>
<svg width="531" height="550" viewBox="0 0 531 550" style="position:absolute;left:0;top:0">
<text x="23.6" y="36.1" font-family="Liberation Sans, Arial, sans-serif" font-size="14.2" fill="#f4eeee">A</text>
<text x="254.2" y="171.5" textLength="46.8" lengthAdjust="spacingAndGlyphs" font-family="Liberation Serif, Times New Roman, serif" font-weight="bold" font-size="14.3" fill="#fff">Control</text>
<text x="241.2" y="328.6" textLength="73.0" lengthAdjust="spacingAndGlyphs" font-family="Liberation Serif, Times New Roman, serif" font-weight="bold" font-size="14.3" fill="#fff">N deficiency</text>
<text x="40.6" y="14.8" textLength="50.6" lengthAdjust="spacingAndGlyphs" font-family="Liberation Serif, Times New Roman, serif" font-weight="bold" font-size="13" fill="#111" stroke="#111" stroke-width="0.3">40 DAND</text>
<text x="124.6" y="14.8" textLength="51.2" lengthAdjust="spacingAndGlyphs" font-family="Liberation Serif, Times New Roman, serif" font-weight="bold" font-size="13" fill="#111" stroke="#111" stroke-width="0.3">50 DAND</text>
<text x="207.4" y="14.8" textLength="50.8" lengthAdjust="spacingAndGlyphs" font-family="Liberation Serif, Times New Roman, serif" font-weight="bold" font-size="13" fill="#111" stroke="#111" stroke-width="0.3">60 DAND</text>
<text x="290.8" y="14.8" textLength="52.1" lengthAdjust="spacingAndGlyphs" font-family="Liberation Serif, Times New Roman, serif" font-weight="bold" font-size="13" fill="#111" stroke="#111" stroke-width="0.3">80 DAND</text>
<text x="371.5" y="14.8" textLength="56.5" lengthAdjust="spacingAndGlyphs" font-family="Liberation Serif, Times New Roman, serif" font-weight="bold" font-size="13" fill="#111" stroke="#111" stroke-width="0.3">100 DAND</text>
<text x="455.3" y="14.8" textLength="55.9" lengthAdjust="spacingAndGlyphs" font-family="Liberation Serif, Times New Roman, serif" font-weight="bold" font-size="13" fill="#111" stroke="#111" stroke-width="0.3">120 DAND</text>
<g stroke="#8a8a8a" stroke-width="1" fill="none">
<path d="M48.3,359.5 L487.5,359.5 M48.3,359.5 L48.3,509.6 L487.5,509.6 M267.6,359.5 L267.6,509.6 M487.5,359.5 L487.5,509.6"/>
<path d="M45.8,509.6 L48.3,509.6"/>
<path d="M45.8,479.6 L48.3,479.6"/>
<path d="M45.8,449.6 L48.3,449.6"/>
<path d="M45.8,419.6 L48.3,419.6"/>
<path d="M45.8,389.6 L48.3,389.6"/>
<path d="M45.8,359.6 L48.3,359.6"/>
<path d="M47.8,509.6 L47.8,512.2"/>
<path d="M79.4,509.6 L79.4,512.2"/>
<path d="M111.0,509.6 L111.0,512.2"/>
<path d="M142.6,509.6 L142.6,512.2"/>
<path d="M174.2,509.6 L174.2,512.2"/>
<path d="M205.8,509.6 L205.8,512.2"/>
<path d="M237.4,509.6 L237.4,512.2"/>
<path d="M268.1,509.6 L268.1,512.2"/>
<path d="M299.4,509.6 L299.4,512.2"/>
<path d="M330.6,509.6 L330.6,512.2"/>
<path d="M361.9,509.6 L361.9,512.2"/>
<path d="M393.2,509.6 L393.2,512.2"/>
<path d="M424.5,509.6 L424.5,512.2"/>
<path d="M455.7,509.6 L455.7,512.2"/>
<path d="M487.0,509.6 L487.0,512.2"/>
<path d="M487.5,509.6 L490,509.6"/>
<path d="M487.5,488.2 L490,488.2"/>
<path d="M487.5,466.7 L490,466.7"/>
<path d="M487.5,445.3 L490,445.3"/>
<path d="M487.5,423.9 L490,423.9"/>
<path d="M487.5,402.5 L490,402.5"/>
<path d="M487.5,381.0 L490,381.0"/>
<path d="M487.5,359.6 L490,359.6"/>
</g>
<text x="41.5" y="513.0" text-anchor="end" font-family="Liberation Sans, Arial, sans-serif" font-size="10" fill="#222">0</text>
<text x="41.5" y="483.0" text-anchor="end" font-family="Liberation Sans, Arial, sans-serif" font-size="10" fill="#222">20</text>
<text x="41.5" y="453.0" text-anchor="end" font-family="Liberation Sans, Arial, sans-serif" font-size="10" fill="#222">40</text>
<text x="41.5" y="423.0" text-anchor="end" font-family="Liberation Sans, Arial, sans-serif" font-size="10" fill="#222">60</text>
<text x="41.5" y="393.0" text-anchor="end" font-family="Liberation Sans, Arial, sans-serif" font-size="10" fill="#222">80</text>
<text x="41.5" y="363.0" text-anchor="end" font-family="Liberation Sans, Arial, sans-serif" font-size="10" fill="#222">100</text>
<text x="47.8" y="525" text-anchor="middle" font-family="Liberation Sans, Arial, sans-serif" font-size="10" fill="#222">0</text>
<text x="79.4" y="525" text-anchor="middle" font-family="Liberation Sans, Arial, sans-serif" font-size="10" fill="#222">20</text>
<text x="111.0" y="525" text-anchor="middle" font-family="Liberation Sans, Arial, sans-serif" font-size="10" fill="#222">40</text>
<text x="142.6" y="525" text-anchor="middle" font-family="Liberation Sans, Arial, sans-serif" font-size="10" fill="#222">60</text>
<text x="174.2" y="525" text-anchor="middle" font-family="Liberation Sans, Arial, sans-serif" font-size="10" fill="#222">80</text>
<text x="205.8" y="525" text-anchor="middle" font-family="Liberation Sans, Arial, sans-serif" font-size="10" fill="#222">100</text>
<text x="237.4" y="525" text-anchor="middle" font-family="Liberation Sans, Arial, sans-serif" font-size="10" fill="#222">120</text>
<text x="268.1" y="525" text-anchor="middle" font-family="Liberation Sans, Arial, sans-serif" font-size="10" fill="#222">0</text>
<text x="299.4" y="525" text-anchor="middle" font-family="Liberation Sans, Arial, sans-serif" font-size="10" fill="#222">20</text>
<text x="330.6" y="525" text-anchor="middle" font-family="Liberation Sans, Arial, sans-serif" font-size="10" fill="#222">40</text>
<text x="361.9" y="525" text-anchor="middle" font-family="Liberation Sans, Arial, sans-serif" font-size="10" fill="#222">60</text>
<text x="393.2" y="525" text-anchor="middle" font-family="Liberation Sans, Arial, sans-serif" font-size="10" fill="#222">80</text>
<text x="424.5" y="525" text-anchor="middle" font-family="Liberation Sans, Arial, sans-serif" font-size="10" fill="#222">100</text>
<text x="455.7" y="525" text-anchor="middle" font-family="Liberation Sans, Arial, sans-serif" font-size="10" fill="#222">120</text>
<text x="487.0" y="525" text-anchor="middle" font-family="Liberation Sans, Arial, sans-serif" font-size="10" fill="#222">140</text>
<text x="494.3" y="513.0" font-family="Liberation Sans, Arial, sans-serif" font-size="10" fill="#222">0.5</text>
<text x="494.3" y="491.6" font-family="Liberation Sans, Arial, sans-serif" font-size="10" fill="#222">1.0</text>
<text x="494.3" y="470.1" font-family="Liberation Sans, Arial, sans-serif" font-size="10" fill="#222">1.5</text>
<text x="494.3" y="448.7" font-family="Liberation Sans, Arial, sans-serif" font-size="10" fill="#222">2.0</text>
<text x="494.3" y="427.3" font-family="Liberation Sans, Arial, sans-serif" font-size="10" fill="#222">2.5</text>
<text x="494.3" y="405.9" font-family="Liberation Sans, Arial, sans-serif" font-size="10" fill="#222">3.0</text>
<text x="494.3" y="384.4" font-family="Liberation Sans, Arial, sans-serif" font-size="10" fill="#222">3.5</text>
<text x="494.3" y="363.0" font-family="Liberation Sans, Arial, sans-serif" font-size="10" fill="#222">4.0</text>
<text x="158.4" y="541.4" text-anchor="middle" font-family="Liberation Sans, Arial, sans-serif" font-size="11.2" fill="#1a1a1a">Days after nitrogen deficiency (DAND)</text>
<text x="377.7" y="541.4" text-anchor="middle" font-family="Liberation Sans, Arial, sans-serif" font-size="11.2" fill="#1a1a1a">Days after nitrogen deficiency (DAND)</text>
<text transform="translate(16.0,434.3) rotate(-90)" text-anchor="middle" font-family="Liberation Sans, Arial, sans-serif" font-size="10.8" fill="#222">SPAD value</text>
<text transform="translate(524.6,433.8) rotate(-90)" text-anchor="middle" font-family="Liberation Sans, Arial, sans-serif" font-size="10.9" fill="#222">Nitrogen content (%)</text>
<text x="55" y="376.8" font-family="Liberation Sans, Arial, sans-serif" font-size="14" fill="#222">B</text>
<text x="274.3" y="376.8" font-family="Liberation Sans, Arial, sans-serif" font-size="14" fill="#222">C</text>
<path d="M130.0,359.5 L130.0,509.6" stroke="#666" stroke-width="1" stroke-dasharray="3.5,2.2" fill="none"/>
<path d="M349.4,359.5 L349.4,509.6" stroke="#666" stroke-width="1" stroke-dasharray="3.5,2.2" fill="none"/>
<text x="143.6" y="498.8" font-family="Liberation Sans, Arial, sans-serif" font-size="12.4" fill="#222">N resupply</text>
<path d="M142,493.5 L135,490.4" stroke="#333" stroke-width="0.9"/>
<path d="M130.8,488.4 L137.2,488.3 L134.4,493.6Z" fill="#111"/>
<g stroke="#6e6e6e" stroke-width="0.9" fill="none">
<path d="M79.4,388.0 L79.4,399.4 M77.1,388.0 L81.7,388.0 M77.1,399.4 L81.7,399.4"/>
<path d="M111.0,395.2 L111.0,402.1 M108.7,395.2 L113.3,395.2 M108.7,402.1 L113.3,402.1"/>
<path d="M130.0,393.5 L130.0,405.5 M127.7,393.5 L132.3,393.5 M127.7,405.5 L132.3,405.5"/>
<path d="M142.6,394.6 L142.6,402.1 M140.3,394.6 L144.9,394.6 M140.3,402.1 L144.9,402.1"/>
<path d="M174.2,386.5 L174.2,401.5 M171.9,386.5 L176.5,386.5 M171.9,401.5 L176.5,401.5"/>
<path d="M205.8,382.7 L205.8,397.1 M203.5,382.7 L208.1,382.7 M203.5,397.1 L208.1,397.1"/>
<path d="M237.4,382.0 L237.4,395.8 M235.1,382.0 L239.7,382.0 M235.1,395.8 L239.7,395.8"/>
<path d="M79.4,382.0 L79.4,389.5 M77.1,382.0 L81.7,382.0 M77.1,389.5 L81.7,389.5"/>
<path d="M111.0,385.4 L111.0,392.9 M108.7,385.4 L113.3,385.4 M108.7,392.9 L113.3,392.9"/>
<path d="M130.0,388.7 L130.0,397.7 M127.7,388.7 L132.3,388.7 M127.7,397.7 L132.3,397.7"/>
<path d="M142.6,383.6 L142.6,392.6 M140.3,383.6 L144.9,383.6 M140.3,392.6 L144.9,392.6"/>
<path d="M174.2,381.5 L174.2,389.0 M171.9,381.5 L176.5,381.5 M171.9,389.0 L176.5,389.0"/>
<path d="M205.8,381.5 L205.8,389.0 M203.5,381.5 L208.1,381.5 M203.5,389.0 L208.1,389.0"/>
<path d="M237.4,383.0 L237.4,390.5 M235.1,383.0 L239.7,383.0 M235.1,390.5 L239.7,390.5"/>
<path d="M79.4,384.4 L79.4,388.9 M77.1,384.4 L81.7,384.4 M77.1,388.9 L81.7,388.9"/>
<path d="M111.0,372.5 L111.0,388.4 M108.7,372.5 L113.3,372.5 M108.7,388.4 L113.3,388.4"/>
<path d="M130.0,372.5 L130.0,388.4 M127.7,372.5 L132.3,372.5 M127.7,388.4 L132.3,388.4"/>
<path d="M142.6,376.0 L142.6,385.2 M140.3,376.0 L144.9,376.0 M140.3,385.2 L144.9,385.2"/>
<path d="M174.2,378.8 L174.2,383.3 M171.9,378.8 L176.5,378.8 M171.9,383.3 L176.5,383.3"/>
<path d="M205.8,374.3 L205.8,382.7 M203.5,374.3 L208.1,374.3 M203.5,382.7 L208.1,382.7"/>
<path d="M237.4,379.9 L237.4,384.4 M235.1,379.9 L239.7,379.9 M235.1,384.4 L239.7,384.4"/>
<path d="M79.4,387.4 L79.4,393.4 M77.1,387.4 L81.7,387.4 M77.1,393.4 L81.7,393.4"/>
<path d="M111.0,390.8 L111.0,396.8 M108.7,390.8 L113.3,390.8 M108.7,396.8 L113.3,396.8"/>
<path d="M130.0,391.7 L130.0,397.7 M127.7,391.7 L132.3,391.7 M127.7,397.7 L132.3,397.7"/>
<path d="M142.6,400.2 L142.6,408.1 M140.3,400.2 L144.9,400.2 M140.3,408.1 L144.9,408.1"/>
<path d="M174.2,410.5 L174.2,425.5 M171.9,410.5 L176.5,410.5 M171.9,425.5 L176.5,425.5"/>
<path d="M205.8,451.0 L205.8,469.6 M203.5,451.0 L208.1,451.0 M203.5,469.6 L208.1,469.6"/>
<path d="M237.4,474.4 L237.4,493.2 M235.1,474.4 L239.7,474.4 M235.1,493.2 L239.7,493.2"/>
<polyline points="79.4,393.7 111.0,398.6 130.0,399.5 142.6,398.3 174.2,394.0 205.8,389.9 237.4,388.9"/>
<polyline points="79.4,385.7 111.0,389.2 130.0,393.2 142.6,388.1 174.2,385.2 205.8,385.2 237.4,386.8"/>
<polyline points="79.4,386.6 111.0,380.5 130.0,380.5 142.6,380.6 174.2,381.1 205.8,378.5 237.4,382.1"/>
<polyline points="79.4,390.4 111.0,393.8 130.0,394.7 142.6,404.2 174.2,418.0 205.8,460.2 237.4,483.8"/>
</g>
<path d="M76.6,384.4 L82.2,384.4 L79.4,389.1Z" fill="#000"/>
<path d="M108.2,378.3 L113.8,378.3 L111.0,383.0Z" fill="#000"/>
<path d="M127.2,378.3 L132.8,378.3 L130.0,383.0Z" fill="#000"/>
<path d="M139.8,378.4 L145.4,378.4 L142.6,383.1Z" fill="#000"/>
<path d="M171.4,378.9 L177.0,378.9 L174.2,383.6Z" fill="#000"/>
<path d="M203.0,376.3 L208.6,376.3 L205.8,381.0Z" fill="#000"/>
<path d="M234.6,379.9 L240.2,379.9 L237.4,384.6Z" fill="#000"/>
<path d="M76.6,392.6 L82.2,392.6 L79.4,387.8Z" fill="#fff" stroke="#222" stroke-width="0.9"/>
<path d="M108.2,396.0 L113.8,396.0 L111.0,391.2Z" fill="#fff" stroke="#222" stroke-width="0.9"/>
<path d="M127.2,396.9 L132.8,396.9 L130.0,392.1Z" fill="#fff" stroke="#222" stroke-width="0.9"/>
<path d="M139.8,406.4 L145.4,406.4 L142.6,401.6Z" fill="#fff" stroke="#222" stroke-width="0.9"/>
<path d="M171.4,420.2 L177.0,420.2 L174.2,415.4Z" fill="#fff" stroke="#222" stroke-width="0.9"/>
<path d="M203.0,462.4 L208.6,462.4 L205.8,457.6Z" fill="#fff" stroke="#222" stroke-width="0.9"/>
<path d="M234.6,486.0 L240.2,486.0 L237.4,481.2Z" fill="#fff" stroke="#222" stroke-width="0.9"/>
<circle cx="79.4" cy="385.7" r="2.75" fill="#fff" stroke="#222" stroke-width="0.9"/>
<circle cx="111.0" cy="389.2" r="2.75" fill="#fff" stroke="#222" stroke-width="0.9"/>
<circle cx="130.0" cy="393.2" r="2.75" fill="#fff" stroke="#222" stroke-width="0.9"/>
<circle cx="142.6" cy="388.1" r="2.75" fill="#fff" stroke="#222" stroke-width="0.9"/>
<circle cx="174.2" cy="385.2" r="2.75" fill="#fff" stroke="#222" stroke-width="0.9"/>
<circle cx="205.8" cy="385.2" r="2.75" fill="#fff" stroke="#222" stroke-width="0.9"/>
<circle cx="237.4" cy="386.8" r="2.75" fill="#fff" stroke="#222" stroke-width="0.9"/>
<circle cx="79.4" cy="393.7" r="2.75" fill="#000"/>
<circle cx="111.0" cy="398.6" r="2.75" fill="#000"/>
<circle cx="130.0" cy="399.5" r="2.75" fill="#000"/>
<circle cx="142.6" cy="398.3" r="2.75" fill="#000"/>
<circle cx="174.2" cy="394.0" r="2.75" fill="#000"/>
<circle cx="205.8" cy="389.9" r="2.75" fill="#000"/>
<circle cx="237.4" cy="388.9" r="2.75" fill="#000"/>
<g stroke="#6e6e6e" stroke-width="0.9" fill="none">
<path d="M299.4,437.6 L299.4,447.0 M297.1,437.6 L301.7,437.6 M297.1,447.0 L301.7,447.0"/>
<path d="M330.6,444.0 L330.6,453.5 M328.3,444.0 L332.9,444.0 M328.3,453.5 L332.9,453.5"/>
<path d="M349.4,459.0 L349.4,463.3 M347.1,459.0 L351.7,459.0 M347.1,463.3 L351.7,463.3"/>
<path d="M361.9,406.3 L361.9,414.9 M359.6,406.3 L364.2,406.3 M359.6,414.9 L364.2,414.9"/>
<path d="M393.2,411.5 L393.2,420.0 M390.9,411.5 L395.5,411.5 M390.9,420.0 L395.5,420.0"/>
<path d="M424.5,397.3 L424.5,405.9 M422.2,397.3 L426.8,397.3 M422.2,405.9 L426.8,405.9"/>
<path d="M455.7,369.5 L455.7,423.5 M453.4,369.5 L458.0,369.5 M453.4,423.5 L458.0,423.5"/>
<path d="M299.4,442.7 L299.4,449.6 M297.1,442.7 L301.7,442.7 M297.1,449.6 L301.7,449.6"/>
<path d="M330.6,450.5 L330.6,459.0 M328.3,450.5 L332.9,450.5 M328.3,459.0 L332.9,459.0"/>
<path d="M349.4,459.0 L349.4,463.3 M347.1,459.0 L351.7,459.0 M347.1,463.3 L351.7,463.3"/>
<path d="M361.9,427.7 L361.9,458.6 M359.6,427.7 L364.2,427.7 M359.6,458.6 L364.2,458.6"/>
<path d="M393.2,394.7 L393.2,447.9 M390.9,394.7 L395.5,394.7 M390.9,447.9 L395.5,447.9"/>
<path d="M424.5,390.5 L424.5,428.2 M422.2,390.5 L426.8,390.5 M422.2,428.2 L426.8,428.2"/>
<path d="M455.7,386.6 L455.7,440.6 M453.4,386.6 L458.0,386.6 M453.4,440.6 L458.0,440.6"/>
<path d="M299.4,404.2 L299.4,421.3 M297.1,404.2 L301.7,404.2 M297.1,421.3 L301.7,421.3"/>
<path d="M330.6,405.0 L330.6,416.2 M328.3,405.0 L332.9,405.0 M328.3,416.2 L332.9,416.2"/>
<path d="M349.4,393.9 L349.4,415.3 M347.1,393.9 L351.7,393.9 M347.1,415.3 L351.7,415.3"/>
<path d="M361.9,394.3 L361.9,411.5 M359.6,394.3 L364.2,394.3 M359.6,411.5 L364.2,411.5"/>
<path d="M393.2,389.6 L393.2,411.0 M390.9,389.6 L395.5,389.6 M390.9,411.0 L395.5,411.0"/>
<path d="M424.5,389.6 L424.5,401.6 M422.2,389.6 L426.8,389.6 M422.2,401.6 L426.8,401.6"/>
<path d="M455.7,392.6 L455.7,401.2 M453.4,392.6 L458.0,392.6 M453.4,401.2 L458.0,401.2"/>
<path d="M299.4,444.9 L299.4,453.5 M297.1,444.9 L301.7,444.9 M297.1,453.5 L301.7,453.5"/>
<path d="M330.6,448.7 L330.6,464.2 M328.3,448.7 L332.9,448.7 M328.3,464.2 L332.9,464.2"/>
<path d="M349.4,468.0 L349.4,472.3 M347.1,468.0 L351.7,468.0 M347.1,472.3 L351.7,472.3"/>
<path d="M361.9,469.7 L361.9,474.9 M359.6,469.7 L364.2,469.7 M359.6,474.9 L364.2,474.9"/>
<path d="M393.2,473.6 L393.2,479.6 M390.9,473.6 L395.5,473.6 M390.9,479.6 L395.5,479.6"/>
<path d="M424.5,474.9 L424.5,483.5 M422.2,474.9 L426.8,474.9 M422.2,483.5 L426.8,483.5"/>
<path d="M455.7,476.2 L455.7,493.3 M453.4,476.2 L458.0,476.2 M453.4,493.3 L458.0,493.3"/>
<polyline points="299.4,442.3 330.6,448.7 349.4,461.2 361.9,410.6 393.2,415.7 424.5,401.6 455.7,396.5"/>
<polyline points="299.4,446.2 330.6,454.7 349.4,461.2 361.9,443.2 393.2,421.3 424.5,409.3 455.7,413.6"/>
<polyline points="299.4,412.7 330.6,410.6 349.4,404.6 361.9,402.9 393.2,400.3 424.5,395.6 455.7,396.9"/>
<polyline points="299.4,449.2 330.6,456.5 349.4,470.2 361.9,472.3 393.2,476.6 424.5,479.2 455.7,484.7"/>
</g>
<path d="M296.6,451.4 L302.2,451.4 L299.4,446.6Z" fill="#fff" stroke="#222" stroke-width="0.9"/>
<path d="M327.8,458.7 L333.4,458.7 L330.6,453.9Z" fill="#fff" stroke="#222" stroke-width="0.9"/>
<path d="M346.6,472.4 L352.2,472.4 L349.4,467.6Z" fill="#fff" stroke="#222" stroke-width="0.9"/>
<path d="M359.1,474.5 L364.7,474.5 L361.9,469.7Z" fill="#fff" stroke="#222" stroke-width="0.9"/>
<path d="M390.4,478.8 L396.0,478.8 L393.2,474.0Z" fill="#fff" stroke="#222" stroke-width="0.9"/>
<path d="M421.7,481.4 L427.3,481.4 L424.5,476.6Z" fill="#fff" stroke="#222" stroke-width="0.9"/>
<path d="M452.9,486.9 L458.5,486.9 L455.7,482.1Z" fill="#fff" stroke="#222" stroke-width="0.9"/>
<circle cx="299.4" cy="442.3" r="2.75" fill="#000"/>
<circle cx="330.6" cy="448.7" r="2.75" fill="#000"/>
<circle cx="349.4" cy="461.2" r="2.75" fill="#000"/>
<circle cx="361.9" cy="410.6" r="2.75" fill="#000"/>
<circle cx="393.2" cy="415.7" r="2.75" fill="#000"/>
<circle cx="424.5" cy="401.6" r="2.75" fill="#000"/>
<circle cx="455.7" cy="396.5" r="2.75" fill="#000"/>
<circle cx="299.4" cy="446.2" r="2.75" fill="#fff" stroke="#222" stroke-width="0.9"/>
<circle cx="330.6" cy="454.7" r="2.75" fill="#fff" stroke="#222" stroke-width="0.9"/>
<circle cx="349.4" cy="461.2" r="2.75" fill="#fff" stroke="#222" stroke-width="0.9"/>
<circle cx="361.9" cy="443.2" r="2.75" fill="#fff" stroke="#222" stroke-width="0.9"/>
<circle cx="393.2" cy="421.3" r="2.75" fill="#fff" stroke="#222" stroke-width="0.9"/>
<circle cx="424.5" cy="409.3" r="2.75" fill="#fff" stroke="#222" stroke-width="0.9"/>
<circle cx="455.7" cy="413.6" r="2.75" fill="#fff" stroke="#222" stroke-width="0.9"/>
<path d="M296.6,410.5 L302.2,410.5 L299.4,415.2Z" fill="#000"/>
<path d="M327.8,408.4 L333.4,408.4 L330.6,413.1Z" fill="#000"/>
<path d="M346.6,402.4 L352.2,402.4 L349.4,407.1Z" fill="#000"/>
<path d="M359.1,400.7 L364.7,400.7 L361.9,405.4Z" fill="#000"/>
<path d="M390.4,398.1 L396.0,398.1 L393.2,402.8Z" fill="#000"/>
<path d="M421.7,393.4 L427.3,393.4 L424.5,398.1Z" fill="#000"/>
<path d="M452.9,394.7 L458.5,394.7 L455.7,399.4Z" fill="#000"/>
<path d="M58,458.8 L77.8,458.8" stroke="#6e6e6e" stroke-width="0.9"/>
<circle cx="68.0" cy="458.8" r="2.75" fill="#000"/>
<text x="82.6" y="462.1" font-family="Liberation Sans, Arial, sans-serif" font-size="9.2" fill="#222">SR</text>
<path d="M58,468.7 L77.8,468.7" stroke="#6e6e6e" stroke-width="0.9"/>
<circle cx="68.0" cy="468.7" r="2.75" fill="#fff" stroke="#222" stroke-width="0.9"/>
<text x="82.6" y="472.0" font-family="Liberation Sans, Arial, sans-serif" font-size="9.2" fill="#222">FA</text>
<path d="M58,478.8 L77.8,478.8" stroke="#6e6e6e" stroke-width="0.9"/>
<path d="M65.2,476.6 L70.8,476.6 L68.0,481.3Z" fill="#000"/>
<text x="82.6" y="482.1" font-family="Liberation Sans, Arial, sans-serif" font-size="9.2" fill="#222">Control</text>
<path d="M58,488.9 L77.8,488.9" stroke="#6e6e6e" stroke-width="0.9"/>
<path d="M65.2,491.1 L70.8,491.1 L68.0,486.3Z" fill="#fff" stroke="#222" stroke-width="0.9"/>
<text x="82.6" y="492.2" font-family="Liberation Sans, Arial, sans-serif" font-size="9.2" fill="#222">ND</text>
</svg>
</body></html>
